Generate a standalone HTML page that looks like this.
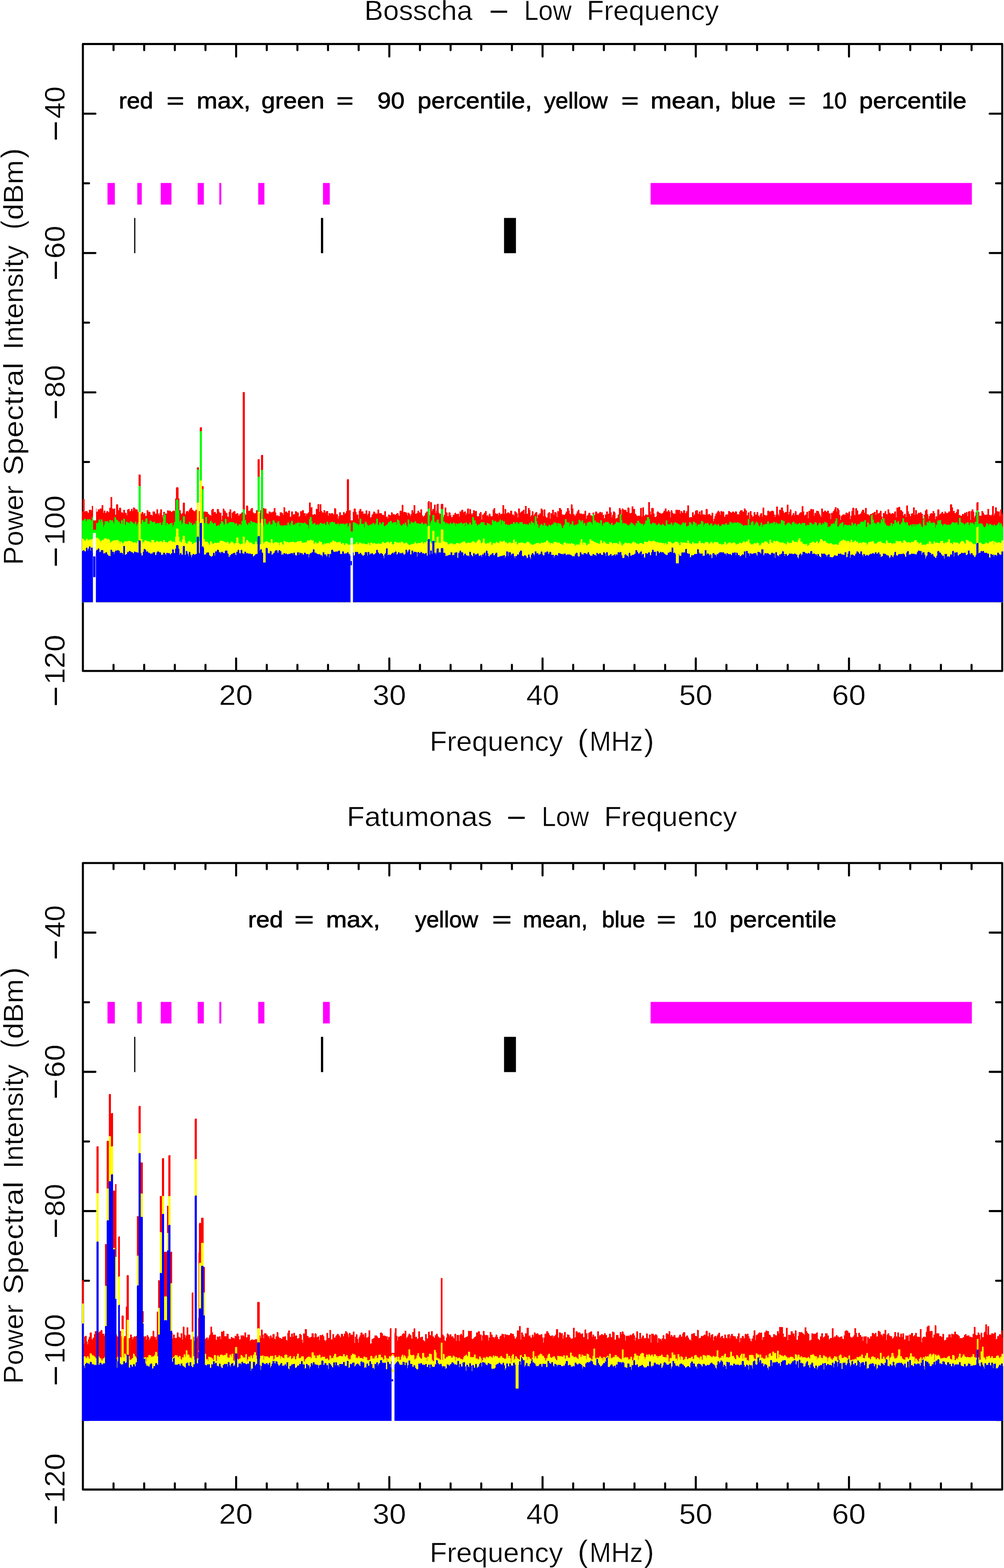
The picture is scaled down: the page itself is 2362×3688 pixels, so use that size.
<!DOCTYPE html>
<html lang="en"><head><meta charset="utf-8"><title>Low Frequency spectra</title>
<style>html,body{margin:0;padding:0;background:#fff}svg{display:block}text{font-family:"Liberation Sans",sans-serif;fill:#000;stroke:#fff;stroke-width:.6;white-space:pre}</style></head><body>
<svg width="2362" height="3688" viewBox="0 0 2362 3688" role="img" aria-label="Power spectral intensity versus frequency, Bosscha and Fatumonas">
<rect width="2362" height="3688" fill="#fff"/>
<g id="panel1">
<rect x="195.0" y="103.5" width="2162.8" height="1474.7" fill="none" stroke="#000" stroke-width="4.8" stroke-linejoin="round"/>
<path d="M267.1 1577.6v-13.9M267.1 104.1v13.9M339.2 1577.6v-13.9M339.2 104.1v13.9M411.3 1577.6v-13.9M411.3 104.1v13.9M483.4 1577.6v-13.9M483.4 104.1v13.9M555.5 1577.6v-28.9M555.5 104.1v28.9M627.6 1577.6v-13.9M627.6 104.1v13.9M699.7 1577.6v-13.9M699.7 104.1v13.9M771.7 1577.6v-13.9M771.7 104.1v13.9M843.8 1577.6v-13.9M843.8 104.1v13.9M915.9 1577.6v-28.9M915.9 104.1v28.9M988.0 1577.6v-13.9M988.0 104.1v13.9M1060.1 1577.6v-13.9M1060.1 104.1v13.9M1132.2 1577.6v-13.9M1132.2 104.1v13.9M1204.3 1577.6v-13.9M1204.3 104.1v13.9M1276.4 1577.6v-28.9M1276.4 104.1v28.9M1348.5 1577.6v-13.9M1348.5 104.1v13.9M1420.6 1577.6v-13.9M1420.6 104.1v13.9M1492.7 1577.6v-13.9M1492.7 104.1v13.9M1564.8 1577.6v-13.9M1564.8 104.1v13.9M1636.9 1577.6v-28.9M1636.9 104.1v28.9M1709.0 1577.6v-13.9M1709.0 104.1v13.9M1781.1 1577.6v-13.9M1781.1 104.1v13.9M1853.1 1577.6v-13.9M1853.1 104.1v13.9M1925.2 1577.6v-13.9M1925.2 104.1v13.9M1997.3 1577.6v-28.9M1997.3 104.1v28.9M2069.4 1577.6v-13.9M2069.4 104.1v13.9M2141.5 1577.6v-13.9M2141.5 104.1v13.9M2213.6 1577.6v-13.9M2213.6 104.1v13.9M2285.7 1577.6v-13.9M2285.7 104.1v13.9M195.6 1414.3h13.9M2357.2 1414.3h-13.9M195.6 1250.5h28.9M2357.2 1250.5h-28.9M195.6 1086.6h13.9M2357.2 1086.6h-13.9M195.6 922.8h28.9M2357.2 922.8h-28.9M195.6 758.9h13.9M2357.2 758.9h-13.9M195.6 595.1h28.9M2357.2 595.1h-28.9M195.6 431.2h13.9M2357.2 431.2h-13.9M195.6 267.4h28.9M2357.2 267.4h-28.9" fill="none" stroke="#000" stroke-width="4.8" stroke-linecap="round"/>
<g fill="#ff00ff"><rect x="252.9" y="430.4" width="17.3" height="50.8"/><rect x="323.0" y="430.4" width="10.5" height="50.8"/><rect x="378.2" y="430.4" width="25.2" height="50.8"/><rect x="465.0" y="430.4" width="14.6" height="50.8"/><rect x="516.0" y="430.4" width="4.6" height="50.8"/><rect x="607.5" y="430.4" width="14.5" height="50.8"/><rect x="759.9" y="430.4" width="15.9" height="50.8"/><rect x="1530.6" y="430.4" width="755.8" height="50.8"/></g><g fill="#000"><rect x="315.6" y="512.6" width="2.8" height="82.9"/><rect x="755.0" y="512.6" width="5.3" height="82.9"/><rect x="1185.8" y="512.6" width="28.0" height="82.9"/></g>
<path fill="#ff0000" d="M193 1416.6V1203h2v-29h4v30h1v-2h6v3h1v1h2v-7h6v2h1v-11h3v34h7v-28h1v8h1v-1h2v-5h3v1h1v-2h1v-1h4v-8h4v18h1v-5h4v6h1v-1h1v-3h1v-1h3v1h1v2h1v-1h1v-9h1v-1h2v-25h4v27h2v2h1v-2h4v14h1v1h1v-24h1v-1h3v1h1v13h2v-5h1v-1h3v1h1v10h4v2h1v-8h3v1h1v6h3v1h1v5h1v-13h1v-1h2v-1h3v6h1v-1h2v-5h4v5h1v-8h1v-1h1v1h2v2h2v3h1v-1h3v1h1v5h2v-88h4v1h1v91h2v-3h1v-1h3v5h1v-2h4v7h1v-1h2v-13h4v4h2v-1h1v1h1v1h1v6h4v2h1v-10h5v1h1v5h1v-1h2v-10h4v10h2v4h1v-6h2v-8h4v13h1v1h1v6h1v-14h4v4h2v-1h1v1h2v-7h1v-1h2v1h1v1h1v-1h3v1h1v2h3v-2h2v-1h4v1h1v-29h1v-1h1v-25h1v-1h4v1h1v25h1v1h1v27h3v7h1v1h1v2h1v-3h1v-1h1v-23h1v-1h3v1h1v25h1v2h1v-7h2v-1h4v3h1v-5h1v-1h1v-3h2v-1h1v-1h3v5h2v1h1v1h1v1h1v1h1v-1h2v-3h3v-99h1v-1h3v1h1v102h2v-196h1v-1h4v139h1v-1h2v1h1v59h1v1h1v-1h3v1h5v4h2v1h1v3h1v-1h2v1h1v1h1v-14h2v-2h4v8h1v-1h3v1h1v3h2v-10h1v-1h3v1h1v5h1v1h1v3h1v-1h3v17h1v-10h2v-16h1v-1h2v1h1v4h2v1h1v3h1v1h1v1h2v8h2v1h1v-12h2v-6h4v21h1v-13h2v-1h1v-1h1v-1h1v-1h3v1h1v6h2v-1h1v-1h3v1h1v4h1v1h1v-4h3v-1h2v-3h3v-283h4v1h1v284h1v3h1v1h1v-21h1v-1h3v2h1v11h1v-1h2v1h1v-1h1v-4h2v-2h4v10h2v3h1v-1h4v-6h1v-1h3v-119h1v-1h4v127h1v-7h2v-129h1v-1h4v125h3v1h1v1h1v-1h2v1h1v10h2v1h2v1h1v-6h4v2h5v-1h1v-1h2v-8h4v10h1v1h1v7h1v-1h4v2h3v-9h5v1h1v1h2v4h1v-18h3v1h1v10h1v-1h3v2h1v1h2v-5h4v14h2v1h1v-13h4v7h2v-1h2v1h1v-7h1v-1h2v1h1v1h1v2h1v-1h2v1h1v10h1v-2h1v-1h1v-10h1v-1h2v1h1v-2h1v-1h3v1h1v6h4v6h1v-5h4v-2h1v-1h2v-23h4v12h1v-1h3v17h1v1h2v-2h4v2h1v-14h4v-11h2v-1h1v1h1v18h1v-18h4v16h2v3h2v1h1v-6h4v7h1v-4h2v-1h4v11h1v-6h4v1h2v-1h5v3h2v-14h1v-1h2v1h1v1h1v13h1v-1h2v1h1v10h1v-6h2v-9h4v7h1v-1h3v1h1v-7h1v-1h2v1h1v4h1v-2h1v-1h1v-4h2v-74h1v-1h3v1h1v73h1v-1h3v24h5v-20h2v-7h1v-1h3v1h1v7h1v1h1v6h1v-1h2v1h1v9h1v-19h2v-4h4v6h2v-1h1v1h2v6h1v-1h3v1h1v-8h1v-1h2v1h1v11h1v-4h2v-6h3v1h1v14h2v-1h1v-5h2v-2h1v-1h1v-4h1v-1h2v1h1v1h1v3h5v-9h1v-1h1v1h2v8h6v1h1v3h4v1h1v-9h1v-1h2v1h1v13h1v-1h3v4h1v-8h1v-1h2v1h1v1h3v-7h3v1h1v4h1v-1h3v1h1v1h2v-2h1v-1h2v-1h3v1h1v5h2v-11h1v-1h3v1h1v-14h1v-1h2v1h1v17h1v-1h4v1h2v1h2v6h1v-6h4v3h2v5h1v-4h1v-1h1v-9h4v5h1v-17h4v21h1v-1h2v-1h2v-5h1v-1h2v1h1v3h2v1h1v-8h4v14h2v4h1v-2h2v-2h2v-5h1v-1h2v-3h3v-22h1v-2h4v33h1v-31h3v1h1v20h1v-4h1v-1h3v-10h4v20h1v-6h1v-14h1v-2h4v21h2v4h1v-2h2v-22h1v-1h4v1h1v30h1v-5h2v-17h2v-1h1v1h1v11h2v1h1v8h2v-8h1v-1h3v1h1v6h2v5h1v-1h2v-5h4v-4h1v-1h3v3h4v-1h2v1h1v6h1v-12h4v-3h1v-1h3v1h1v5h2v-2h4v8h1v-4h1v-1h1v-9h1v-1h3v12h1v-10h1v-1h2v1h1v9h1v1h1v3h1v-4h2v-7h4v3h1v-1h1v-1h1v1h2v12h2v1h1v-1h2v-6h1v-1h1v-2h1v-1h2v1h1v17h1v-11h2v-1h2v-3h1v-1h2v-4h4v11h1v-1h3v3h1v-6h1v-1h2v1h1v5h2v1h1v-1h2v-15h2v-3h1v-1h3v12h2v1h1v1h1v-1h3v4h1v-6h4v4h1v-1h2v-1h2v-20h4v21h1v-12h3v1h1v9h1v1h1v-2h1v-1h3v1h1v1h1v1h1v-6h1v-1h3v1h1v8h4v3h1v-10h1v-1h1v1h2v2h2v3h2v9h1v-21h4v10h1v-1h2v-2h2v-1h2v-2h1v-1h3v10h1v-19h4v19h1v-1h2v-13h4v5h2v15h1v-3h2v-9h1v-1h2v1h1v10h1v-3h2v-3h1v-1h1v-1h1v-1h2v1h1v14h1v-8h1v-1h2v1h1v-4h3v-11h4v3h1v1h1v14h1v-16h3v1h1v15h1v1h1v3h1v-1h2v-9h2v-3h4v15h1v-13h3v1h1v-9h4v12h1v-6h1v-1h2v1h1v1h2v10h1v-14h3v1h1v-8h4v1h1v3h2v11h4v1h3v-3h2v-4h1v-1h2v-8h4v6h2v7h1v1h1v1h1v-23h1v-1h2v1h1v9h2v13h2v1h1v3h2v-4h1v-1h2v-5h2v-3h1v-1h3v8h2v1h5v2h1v-1h1v-1h1v1h2v-7h1v-1h2v1h1v18h1v-7h2v-2h2v-4h1v-1h3v1h1v5h3v1h1v1h1v-8h1v-1h1v1h2v5h2v-7h1v-1h3v1h1v3h1v1h2v-1h2v-3h4v2h1v-1h3v6h3v8h2v-9h3v-7h4v6h1v-1h2v-15h3v1h1v11h2v12h1v-6h2v-8h4v2h1v1h1v14h1v-1h2v-1h2v-7h1v-1h2v-15h4v4h2v11h1v-14h3v1h1v2h2v1h1v-1h3v1h1v4h2v-10h2v-1h1v1h1v1h1v12h4v-1h1v-15h4v6h4v11h1v1h2v3h1v1h1v1h1v-1h6v-18h2v-1h1v1h1v20h1v-21h1v-1h2v1h1v19h2v-1h1v-2h4v2h1v-1h2v-30h4v22h2v7h1v-15h3v-1h1v1h2v13h2v8h3v-1h1v-1h1v-10h1v-1h3v1h1v2h4v2h4v-1h1v-1h1v-1h1v-3h1v-1h2v-5h4v7h3v-3h3v1h1v3h2v13h1v-17h3v1h1v5h2v3h1v-1h3v1h1v-10h6v1h2v-1h2v1h1v8h1v-6h3v1h1v3h2v-5h1v-1h3v1h1v6h2v-4h1v-1h2v-13h1v-1h1v1h2v28h3v-1h3v1h1v-12h4v8h1v-3h2v-8h1v-1h2v-1h3v1h1v7h1v1h1v-5h1v-1h3v8h1v-10h1v-1h2v1h1v9h2v-1h1v1h2v1h2v-13h1v-1h3v1h1v12h2v-1h4v3h2v1h1v-7h4v20h1v-6h2v-6h2v-5h1v-1h2v-3h2v-3h1v-1h2v1h1v2h2v7h1v-9h4v2h1v-1h3v1h1v12h1v-1h1v-4h1v-1h6v-8h4v2h2v1h1v1h2v-2h1v-1h3v1h1v2h2v-3h2v-1h1v1h1v1h1v6h1v-1h2v1h2v-6h1v-1h1v-2h1v-1h5v3h2v1h1v-8h4v4h2v1h1v11h2v-6h1v-1h3v15h1v-18h4v9h2v5h1v-2h2v-9h1v-1h2v1h1v6h1v-1h2v-5h1v-1h2v1h1v7h1v1h1v3h1v-5h1v-1h1v-3h4v8h1v-21h4v17h2v1h2v1h1v-1h2v-10h1v-1h3v2h5v-1h1v-1h3v1h2v1h1v7h2v6h1v-5h2v-19h1v-1h2v1h1v17h2v4h1v-14h4v-5h2v-1h1v1h2v7h1v1h1v4h3v-2h4v-17h4v23h1v-6h2v-5h1v-1h2v1h1v15h1v-3h2v-4h4v5h1v-10h3v1h1v8h4v1h1v-3h1v-1h1v-2h1v-1h4v-14h1v-1h2v1h1v12h2v10h1v-2h2v-1h2v-6h4v15h1v-17h1v-1h2v1h1v-4h1v-1h3v1h5v15h1v-6h1v-1h2v1h1v-5h1v-1h2v1h3v1h1v5h1v1h1v3h2v4h1v-20h3v1h1v7h3v-3h4v3h3v-3h3v1h1v6h1v-1h2v1h1v13h1v-14h1v-1h2v1h1v-4h1v-1h2v-4h2v-5h4v10h1v-8h3v1h1v3h1v1h1v11h2v12h1v-9h2v-2h2v-2h2v-1h1v1h2v1h2v-5h2v-1h1v1h1v1h2v1h1v-4h1v-1h2v1h1v17h1v-8h2v-11h2v-7h1v-1h3v1h1v16h1v1h1v-16h1v-1h3v5h2v1h1v9h3v-1h2v-1h1v-1h1v-4h2v-4h4v1h1v6h2v-11h2v-1h1v1h1v14h2v1h3v2h3v-3h4v-1h1v-1h2v-1h2v-2h4v7h1v-12h3v1h1v8h2v-1h1v-1h2v-4h1v-1h2v1h1v13h2v6h1v-14h4v-4h1v-1h3v7h2v1h1v-12h4v8h3v3h2v-1h1v-1h3v1h2v-1h1v-4h4v14h1v-23h4v-1h1v-1h3v1h1v7h4v3h2v1h1v8h2v-3h2v-1h1v1h1v7h1v-27h4v13h1v1h1v5h1v1h2v5h2v-6h3v-1h2v-13h1v-1h2v1h1v17h1v-11h4v9h1v1h1v-3h1v-1h3v1h1v-2h4v3h2v1h1v11h1v-1h1v-8h3v-10h2v-3h3v1h1v10h1v1h1v10h1v-6h2v-5h1v-1h2v-1h3v1h1v-6h4v5h2v14h1v-6h1v-1h2v1h1v-16h1v-1h3v1h1v11h2v-2h1v-1h2v-3h4v4h3v-5h3v1h1v2h1v1h2v-1h2v-3h4v-16h1v-1h3v1h1v6h1v1h1v8h2v-1h1v1h1v5h3v-3h2v-6h5v14h1v-1h2v1h1v2h1v-1h2v-4h4v1h1v-4h3v1h1v-2h1v-1h2v1h1v9h1v-11h3v-1h2v1h1v20h1v-21h2v-4h4v5h1v1h1v14h1v-4h1v-1h1v-8h2v-22h1v-2h4v23h2v9h5v-11h4v4h2v4h2v1h4v-1h2v-13h4v14h3v1h1v1h1v-2h1v-1h1v-19h1v-1h3v22h1v-4h1v-1h1v-13h1v-1h2v1h1v8h2v1h5v11h1v-15h1v-1h1v1h2v7h2v5h1V1416.6z"/>
<path fill="#00ff00" d="M193 1416.6V1224h5v-4h3v1h1v5h2v-4h1v-1h3v1h1v-1h4v2h1v1h1v1h1v-8h1v-1h2v30h7v-17h1v2h2v-1h1v-2h2v-6h4v7h1v-7h4v5h2v13h1v-6h2v-8h9v3h1v1h1v-6h1v-1h3v1h5v4h2v4h1v-15h1v-1h2v1h1v5h2v1h2v1h1v3h4v6h1v-2h2v-7h4v9h1v-13h3v1h1v13h1v1h1v-7h1v-1h3v1h1v2h1v-1h3v3h1v-6h3v1h1v1h2v1h2v3h3v-4h1v-1h2v1h1v9h1v-4h1v-1h1v-3h1v-1h1v-85h4v1h1v88h2v-9h4v4h1v1h2v-1h1v-1h1v-6h1v-1h3v1h1v12h5v-7h1v-1h2v1h1v1h1v1h1v2h1v-1h2v-1h4v5h1v-1h3v-1h2v1h4v-2h3v1h1v5h2v-1h1v-6h1v-1h1v-10h1v-1h1v-9h2v4h2v25h1v-6h4v4h1v-1h3v-1h1v-1h1v-1h5v10h1v-5h2v-7h3v-27h1v-1h1v-24h1v-1h4v1h1v24h1v1h1v26h1v-3h4v10h1v-4h2v-15h1v-1h3v1h1v16h1v2h1v-1h4v1h2v1h1v-7h3v1h1v3h1v-1h3v5h3v-3h1v-1h3v3h1v-9h3v-120h1v-1h3v1h1v126h1v-4h1v-212h1v-1h4v137h1v-1h2v1h1v76h1v4h1v-1h2v-14h4v15h2v4h1v-3h2v-1h1v-1h1v-4h1v-1h3v4h3v3h2v-1h1v-1h3v1h1v6h3v-1h2v-1h3v1h1v-4h1v-1h2v-6h1v1h1v-1h1v1h1v2h2v5h2v1h1v-13h1v-1h2v1h1v10h2v2h1v-2h2v-3h9v1h1v-1h3v3h2v1h1v-1h4v5h2v1h1v-4h4v-1h1v1h1v3h1v-10h1v-1h2v-27h4v1h1v24h2v1h1v7h2v3h3v-4h1v-1h2v1h1v3h1v-8h3v1h1v2h6v1h1v1h4v1h2v-109h1v-1h4v109h3v-124h1v-1h4v127h1v6h1v-18h3v1h1v9h2v3h2v1h1v-3h2v-4h2v-1h1v1h1v7h2v-1h3v-9h2v-1h1v1h2v4h1v1h1v1h2v8h1v-8h2v-4h4v7h2v3h9v-1h1v1h2v-1h2v-1h1v1h1v1h1v-7h4v4h2v4h1v-7h2v-5h4v9h2v1h1v-1h1v-1h1v-1h1v-1h3v-1h1v-1h6v9h1v-8h1v-1h2v1h1v1h1v-1h3v1h1v-1h1v-1h3v3h2v1h2v1h1v1h2v8h1v-22h2v-5h1v-1h1v1h2v10h2v7h1v-1h2v-2h4v5h1v-1h3v-1h2v1h1v2h1v-3h2v-3h5v1h1v1h2v1h1v-2h1v-1h2v1h1v3h3v-6h1v-1h2v1h1v4h1v1h1v3h1v-7h3v-1h2v-1h3v1h1v1h1v-1h3v4h2v1h3v-1h1v-1h3v5h1v-3h2v-1h1v-1h2v1h1v1h1v-1h1v-1h2v1h3v3h1v-3h2v-1h4v9h1v-3h1v-1h1v-5h1v-1h2v1h1v19h5v-21h1v-1h3v1h1v1h4v3h2v-1h1v1h1v4h1v-4h2v-13h4v12h2v1h1v-1h4v9h1v-14h4v3h1v1h1v4h2v1h3v-2h3v-1h3v1h1v-4h4v3h2v2h1v-5h2v-10h4v14h2v1h1v-6h4v4h1v-1h2v-4h4v9h2v1h1v-2h2v-1h1v-1h2v-2h2v-4h4v-2h1v-1h3v1h1v5h2v-2h1v-1h3v1h1v-1h4v6h1v-12h3v1h1v1h1v1h1v6h1v1h1v3h1v1h3v-1h1v-2h1v-1h3v2h1v-5h4v6h1v1h1v4h1v-18h4v10h2v1h1v-6h3v1h1v2h1v-1h3v1h1v-4h4v4h2v2h1v-1h4v1h5v-3h4v4h2v1h1v-2h1v-1h4v1h1v4h1v-1h1v-37h1v-2h4v38h1v-5h2v-4h1v-1h2v-12h1v-1h3v1h1v15h2v1h1v2h1v-2h1v-4h1v-2h4v7h1v1h1v2h3v-34h1v-1h4v1h1v28h2v1h1v1h2v5h1v-3h4v2h4v2h1v-4h1v-1h2v1h1v3h1v-1h2v-3h4v2h2v6h1v-6h3v1h1v1h2v-2h2v-1h1v1h2v-2h4v4h1v-1h2v-2h4v8h1v-9h3v1h1v2h1v1h1v1h1v-1h2v-3h1v-1h2v1h1v4h3v-18h3v1h1v7h4v7h2v1h1v4h2v-2h2v-1h3v-2h2v-3h4v1h2v-1h2v1h1v6h4v1h1v-6h4v2h5v4h1v-1h2v-12h4v4h1v-1h2v-1h3v1h1v3h2v-1h1v-1h4v-4h1v-1h3v12h1v-10h3v1h1v2h1v-1h2v1h1v6h5v2h1v-1h3v1h2v-1h1v-1h2v-1h4v1h1v-5h4v4h1v-1h2v-3h4v4h3v-2h1v-1h1v-1h6v1h1v4h3v-1h3v1h5v1h2v1h1v-5h4v4h1v-8h3v1h1v3h4v6h1v-22h4v12h2v7h2v1h1v7h2v-5h1v-1h2v-3h3v1h1v2h1v1h2v-6h3v1h1v5h4v2h3v-4h4v2h3v-2h1v-1h4v-4h1v-1h1v1h4v1h2v7h1v-6h1v-1h2v1h1v1h1v-1h3v1h1v3h1v1h1v6h3v-6h2v-3h2v-12h4v7h2v1h5v9h1v-5h4v-7h2v-1h1v1h1v9h2v1h1v-2h5v-1h2v-1h2v-9h2v-1h1v1h1v1h1v3h1v1h1v-4h4v9h1v-3h4v5h2v3h1v-8h1v-1h3v-1h1v-1h5v1h1v2h2v4h1v-24h1v-1h2v1h1v15h1v-1h2v1h1v4h2v-1h2v1h2v1h3v2h1v-8h1v-1h2v1h1v10h2v3h1v-7h3v1h1v-3h2v-1h1v1h3v-1h2v1h1v3h2v1h1v2h2v-3h1v-1h3v5h3v-1h2v-2h1v-1h2v-3h1v-1h2v1h1v1h2v-1h1v1h1v1h1v-20h1v-1h2v1h1v13h2v10h1v-3h4v1h4v1h1v1h1v1h1v1h2v2h1v-2h2v-2h2v-3h1v-1h3v2h3v3h2v1h2v3h1v-7h1v-1h2v1h1v-6h2v-1h1v1h1v1h1v3h1v1h1v1h2v2h1v-1h4v4h2v-4h3v-7h1v-1h2v1h1v-8h1v-1h3v1h1v4h2v10h2v2h3v-3h1v-1h2v1h1v1h2v-1h1v1h2v4h1v-1h2v1h2v-4h4v3h2v1h2v1h1v-3h1v-1h2v1h1v1h1v1h1v1h1v1h2v-12h1v-1h3v9h2v1h1v-1h5v-4h3v1h1v5h1v1h1v-5h3v-3h3v1h1v2h1v-1h2v1h1v1h1v1h3v1h1v3h1v-3h1v-1h2v1h1v-5h4v3h1v-3h3v1h1v8h3v-1h1v-1h3v-7h1v-1h3v3h1v1h2v3h2v-7h1v-1h3v1h1v3h1v-1h2v1h1v7h1v-3h2v-2h5v-1h2v-6h1v-1h2v1h1v1h2v11h1v-5h2v-2h1v-1h2v1h1v1h1v-2h4v4h1v1h1v1h1v-4h2v-1h4v6h1v-1h2v-2h2v-2h4v3h2v1h1v-3h1v-1h2v1h1v5h1v-1h3v1h1v-4h1v-1h5v1h3v-3h4v1h1v3h2v-1h1v-1h2v-5h1v-1h2v1h1v2h1v-1h2v1h1v2h1v-3h8v1h1v-1h1v-1h2v1h1v3h1v-2h4v3h4v3h2v1h1v-1h1v-1h3v1h2v-1h2v1h1v-15h2v-1h1v1h1v14h3v-5h1v-1h1v-2h1v-1h3v1h1v9h1v-1h1v-3h2v-1h1v-4h3v1h1v2h2v5h1v1h1v2h1v-1h1v-1h1v-6h1v-1h3v11h1v-6h3v1h1v-2h2v-1h1v1h2v-1h2v-5h1v-1h2v1h1v7h1v-3h5v-1h3v1h1v-3h1v-1h2v1h1v6h1v-5h4v1h1v1h1v3h1v-2h1v-1h1v1h1v-1h2v1h1v-8h1v-1h3v1h1v2h1v-1h2v1h1v9h3v-2h2v-2h1v-1h2v-1h3v1h1v2h3v1h1v3h1v-7h2v-2h4v5h1v-1h4v3h1v-1h2v-1h2v-2h4v3h3v-3h8v1h1v6h1v-1h1v-1h2v-1h1v1h4v-6h4v1h2v1h1v3h2v-1h1v-1h2v-3h1v-1h2v1h2v1h1v6h3v-4h2v-2h1v-1h2v1h1v4h2v1h1v-4h4v1h1v-4h1v-1h1v1h2v2h1v-1h2v1h1v10h1v-1h4v-2h1v-1h2v-4h4v-1h4v1h1v-6h2v-7h4v20h1v-1h2v-1h1v-1h1v-4h1v-1h4v-3h4v11h1v-5h5v1h5v1h1v-1h1v-1h3v2h2v1h1v-8h4v7h1v-3h2v-2h4v8h1v-4h2v-2h1v-1h2v1h1v-1h2v-1h1v-4h8v1h1v-4h1v-1h2v1h1v16h1v-1h2v-10h4v4h4v1h1v-22h2v-1h1v-1h1v12h2v1h1v7h3v1h1v3h1v-3h2v-3h6v4h1v-1h1v-1h1v-8h4v5h1v-8h4v10h1v1h1v2h1v1h1v3h5v2h1v-1h2v-1h2v-6h4v8h1v-6h4v-8h1v-1h2v1h1v5h2v1h1v-4h4v7h4v-1h1v-3h1v-1h2v-9h3v1h1v8h2v1h2v4h1v-5h3v1h1v6h2v2h1v-1h2v-2h4v6h1v-7h6v5h1v-5h3v1h2v-1h4v-2h4v4h2v4h2v1h1v-17h1v-1h1v-8h2v22h2v-1h2v1h1v-8h4v2h1v-5h4v5h4v1h1v-2h1v-1h2v1h1v1h2v11h1v-7h4v-9h1v-1h3v1h1v-2h4v9h2v1h1v4h1v-1h1v-3h3v-1h3v1h1v2h2v-1h5v1h1v-1h2v-1h2v-3h1v-1h1v-1h4v3h1v-2h3v1h1v-1h2v-1h1v1h1v5h2v-1h1v-15h4v10h2v1h1v1h4v3h2v2h1v-4h4v-2h1v-1h3v1h1v6h2v-5h1v-1h3v2h1v-1h1v-1h2v1h1v3h2v1h1v-6h1v-1h2v1h1v-26h1v-2h4v32h3v-1h6v2h1v1h1v4h2v2h3v-3h2v-6h5v5h1v-1h1v-3h4v1h1v2h4v3h1v-4h1v-1h1v1h2v2h3v-1h2v-2h1v-1h1v-2h1v-1h3v6h1v-4h3v1h1v4h1v1h1v4h1V1416.6z"/>
<path fill="#ffff00" d="M193 1416.6V1267h4v3h2v2h2v-1h1v-4h4v4h2v-1h1v-1h7v-2h4v3h1v-5h2v-1h4v2h1v-1h3v1h1v2h2v2h1v1h1v2h3v-3h5v-3h2v-1h4v1h2v3h1v-3h3v1h1v2h1v1h1v6h1v-2h2v-2h2v-1h3v-1h1v-1h1v1h5v-1h3v1h3v2h1v1h1v5h1v-5h4v3h2v4h1v-5h2v-3h6v2h1v-2h1v-1h6v1h4v2h4v3h1v-2h1v-1h2v1h1v1h2v1h1v-5h4v-69h4v1h1v63h4v10h1v-3h2v-1h2v-3h1v-1h3v2h2v1h5v1h2v1h1v1h1v-1h1v-5h6v1h1v5h1v-1h4v-3h3v1h1v2h2v-1h2v-1h5v3h1v-1h2v-5h3v1h1v4h4v1h3v-2h1v-1h3v-1h2v-1h2v1h1v3h1v-1h5v1h1v1h1v-13h1v-1h1v-18h1v-1h4v1h1v18h1v1h1v10h3v2h3v-6h2v-8h1v-1h3v1h1v10h1v6h2v1h1v1h2v-4h1v-1h2v-2h3v1h1v2h4v5h2v-1h1v-2h1v-1h6v-2h1v-91h1v-1h3v1h1v90h2v-142h1v-1h4v91h1v-1h2v1h1v47h3v6h2v1h1v-1h4v3h2v1h1v3h1v1h1v-8h1v-1h3v5h2v1h3v-2h1v-1h3v1h1v1h1v-1h1v-1h4v1h1v-1h1v-1h1v-3h2v-1h1v1h4v1h4v2h3v1h1v1h1v-2h1v-1h3v1h1v4h1v1h1v-3h3v-3h1v-1h1v1h2v1h2v3h2v3h1v-4h4v-12h1v-1h3v1h1v11h1v1h1v2h1v1h1v1h1v-2h5v-17h4v1h1v17h1v-4h1v-1h1v-4h1v-1h3v1h1v3h2v2h6v1h1v1h1v1h1v2h1v-1h4v-6h4v6h1v-1h1v-74h1v-1h4v76h2v-1h1v-57h1v-1h4v54h1v5h1v-4h1v-1h1v-1h3v-1h3v1h1v1h2v1h4v2h1v-10h4v8h2v4h1v-3h2v-2h6v1h1v1h1v-1h2v1h1v6h1v-7h2v-1h4v5h2v2h1v-10h4v2h2v2h1v-1h1v-1h2v1h1v1h3v-1h1v-1h1v1h5v-1h3v1h1v1h3v-1h4v-2h7v-1h3v1h1v3h1v1h2v-1h5v-1h3v1h1v-5h4v1h1v-1h2v-2h3v1h1v2h1v-1h3v1h1v7h2v-3h1v-1h3v1h1v3h2v-2h3v-4h1v-1h1v1h2v2h4v6h3v-2h1v-1h2v1h2v-1h5v-1h3v3h1v-2h1v-1h1v-2h5v-4h3v1h1v2h1v-1h2v1h1v1h1v1h1v-1h2v1h2v-1h3v-1h2v1h1v4h3v-1h1v-1h2v1h1v3h1v1h2v-4h4v1h2v2h7v-1h1v-1h3v1h1v1h2v-1h3v-1h2v-3h1v-1h2v1h1v4h3v-4h4v1h2v1h1v1h2v-1h4v1h2v1h6v-3h1v-1h1v1h2v5h2v-5h1v-1h3v1h1v2h2v-2h4v1h1v1h4v1h1v-2h4v1h5v-1h2v-3h2v-1h1v1h1v3h1v-1h3v1h1v-2h1v-1h2v-1h4v3h1v1h1v-3h1v-1h3v1h1v5h2v1h1v-1h2v-5h1v-1h4v1h1v2h1v-1h3v1h1v-1h2v-1h1v1h1v2h1v-4h4v1h1v1h1v2h2v1h1v-2h3v-1h3v3h2v1h1v1h1v1h2v-1h3v-1h2v-1h5v1h1v-4h1v-1h2v1h1v2h2v2h1v-3h4v1h1v-1h4v-2h1v-1h2v1h1v3h2v1h1v-3h1v-1h2v1h2v-3h1v-1h2v-33h1v-2h4v37h3v4h3v-29h1v-1h3v1h1v28h1v-1h4v-12h1v-2h4v15h1v-1h3v1h1v-31h1v-1h4v1h1v27h3v1h2v2h1v-1h3v1h1v4h1v1h1v-1h2v-1h1v-1h4v1h1v-1h3v2h1v1h1v-1h4v-2h2v-1h4v2h1v-1h3v1h1v-2h2v-1h1v-1h3v1h1v-3h4v3h2v2h3v-1h1v-1h4v1h4v-2h3v-2h3v1h3v2h2v2h1v-3h2v-2h1v-1h1v-2h1v-1h3v1h1v1h1v1h1v5h1v1h2v-2h1v-1h1v-8h1v-1h2v1h1v9h1v1h1v2h2v1h1v-3h4v2h1v-3h2v-1h1v-1h2v1h1v6h1v1h1v-1h1v-4h4v1h3v-3h1v-1h2v1h1v2h5v-4h1v-1h2v1h1v1h2v1h1v-1h1v-1h1v-1h4v4h2v-1h2v1h1v3h1v-1h2v-2h3v-1h2v1h1v3h1v-2h1v-1h1v1h2v-7h1v-1h3v9h1v-4h4v7h1v-1h2v-3h6v-1h2v-1h1v1h2v1h4v2h1v-1h2v-2h2v-1h1v-1h3v1h2v1h1v2h2v2h2v1h6v-1h2v-1h2v-1h2v-1h7v2h3v-3h4v1h3v-2h3v1h1v-1h1v-1h1v-2h1v-1h3v1h1v4h4v5h1v-4h3v1h3v1h1v-4h1v-1h1v1h4v-1h1v1h1v1h2v1h1v-1h4v3h4v1h1v1h2v1h1v-4h1v-1h1v-1h1v-1h2v1h1v3h1v-1h5v1h2v-1h2v1h1v1h1v-2h1v-1h2v1h1v1h4v1h1v4h1v-1h1v-2h2v-1h1v1h3v-1h2v1h1v1h1v-6h2v-8h4v13h1v-4h1v-1h5v2h2v4h2v1h1v-4h5v-11h4v4h4v1h2v1h1v1h4v2h5v2h2v-1h1v1h2v-8h4v6h2v1h1v-4h1v-1h2v1h1v2h2v2h2v1h5v1h1v-5h5v1h1v1h1v1h1v3h1v-4h4v1h1v-1h6v3h2v-1h1v-5h1v-1h2v1h1v4h2v4h1v1h2v-2h1v-1h1v-1h2v-2h1v-1h3v1h2v1h2v-1h3v1h5v2h1v-3h2v-3h3v1h1v1h4v1h1v2h2v-1h1v1h2v1h2v-3h6v1h1v1h2v1h1v-1h1v-4h1v-1h4v1h4v-1h1v-2h1v-1h2v1h1v1h4v2h1v-3h6v1h1v1h2v2h1v-1h5v1h1v1h3v-1h3v1h2v1h2v-1h2v1h1v3h1v-4h4v4h1v-1h2v-6h3v1h2v-1h3v3h2v1h1v1h1v-1h1v-1h2v-1h1v-1h1v-1h5v1h2v1h1v1h2v5h3v-7h3v1h1v1h2v-1h2v-1h1v1h2v1h5v-6h3v1h1v5h1v1h3v1h1v1h2v-4h1v-1h3v4h1v-1h7v1h1v-1h1v-1h2v-4h1v-1h3v5h2v1h1v-1h4v2h1v-1h2v-3h4v-1h1v1h3v1h1v3h2v-1h1v-1h2v-3h4v4h3v-3h1v-1h2v1h1v1h1v-1h6v3h1v1h1v1h1v-1h3v1h1v1h1v1h1v-2h2v-1h1v1h2v-5h4v6h1v-1h2v-2h1v-1h1v-1h7v2h3v-1h2v-2h3v1h1v2h2v4h1v-2h2v-1h5v-3h3v1h1v1h2v-1h2v-1h1v-3h4v3h1v-1h2v-2h3v1h1v-4h1v-1h3v8h2v1h1v2h2v1h1v-1h3v1h1v-3h1v-1h2v1h3v1h1v-3h4v2h2v4h1v1h2v-2h1v-1h1v-3h1v-1h3v1h3v-3h1v-1h2v1h4v2h1v1h1v2h3v-9h1v-1h2v1h1v5h2v3h1v-1h2v-5h4v1h2v2h1v-3h4v2h2v1h2v1h10v3h1v-1h3v1h1v2h2v-6h1v-1h3v3h2v1h1v-1h5v-6h4v3h4v1h2v-1h2v1h1v1h1v-6h2v-4h4v9h1v-1h3v1h1v4h4v1h2v1h1v-2h4v5h1v-1h2v-1h2v-4h1v-1h4v-2h2v-1h4v2h2v1h2v-1h1v-2h1v-1h3v5h2v-1h1v-3h2v-5h1v-1h3v1h1v1h2v4h1v-1h2v-1h3v1h1v4h1v-1h2v1h1v1h2v1h2v-1h3v-1h1v1h2v2h4v2h1v-1h1v-1h6v1h1v1h1v-1h2v-4h2v-3h1v-1h2v-1h2v-1h2v-1h1v-1h3v1h1v2h1v-1h2v1h1v4h1v-4h5v1h1v3h1v-1h2v-5h1v-1h2v1h1v6h1v-1h2v-1h2v-2h1v-1h2v1h1v4h1v-2h3v1h1v3h2v-1h1v-1h3v1h2v1h1v-2h1v-1h4v1h4v1h2v6h1v-4h2v-3h1v-1h4v-1h5v-1h3v1h1v4h4v2h1v-2h2v-2h2v-2h6v-1h2v1h1v3h4v1h2v-1h2v1h1v2h1v-9h4v5h2v1h2v1h1v-1h1v-1h2v1h1v1h2v3h1v-3h1v-1h1v1h5v-6h3v1h1v1h1v-1h3v1h1v-1h1v-1h2v1h1v3h5v-5h4v1h2v3h3v1h3v-1h3v1h1v1h2v-2h1v-1h2v1h1v-1h1v1h2v-3h1v-1h2v-1h3v1h1v4h4v4h1v-1h2v-2h4v5h2v1h1v-1h6v2h1v-3h2v-1h2v-1h1v1h2v-6h4v1h1v1h1v4h1v1h1v-1h2v1h1v-6h4v3h3v-1h4v1h2v1h1v-1h2v-4h3v-1h4v5h2v3h1v-4h6v-1h1v-1h2v-5h1v-1h2v1h1v9h1v-1h3v1h1v2h2v-5h4v2h1v-1h6v1h2v1h1v1h1v1h1v-4h1v-1h2v-3h4v1h1v1h2v1h1v3h2v1h1v-9h4v1h3v3h6v1h1v2h2v2h2v2h1v-2h3v1h3v-39h1v-2h4v38h2v-1h4v1h1v2h2v1h3v-1h4v-3h4v2h2v1h1v-2h2v-3h4v1h1v-2h3v-1h3v9h1v-7h3v1h1v2h1v-1h3v1h1v-1h1v-1h2v1h2v1h1v1h1v-3h1v-4h4V1416.6z"/>
<path fill="#0000ff" d="M193 1416.6V1296h1v-1h2v-1h2v1h1v2h3v-8h1v-1h2v1h1v6h1v-4h1v-1h1v-4h1v-1h2v1h1v9h1v-7h4v7h1v-1h3v4h3v-2h1v-1h1v-2h3v-3h3v1h1v8h1v-1h2v-4h6v8h1v-1h3v1h1v-3h4v5h2v1h1v3h1v-1h2v1h2v-15h3v1h1v4h4v5h1v-5h2v-3h5v-1h3v1h1v1h2v5h1v-1h4v1h2v3h1v-20h3v1h1v20h2v-1h1v-1h2v-4h1v-1h2v1h1v-3h4v1h1v2h1v-1h2v1h1v1h1v1h1v1h1v-4h1v-1h2v1h1v1h5v1h2v-29h4v1h1v29h2v6h1v-1h2v-8h2v-7h4v2h1v1h1v4h1v-1h3v1h1v3h1v-1h2v1h1v1h1v1h1v-1h4v-3h6v7h1v-1h2v-5h1v-1h1v-2h4v2h4v1h1v5h3v-1h2v-4h4v3h2v3h1v-5h1v-1h2v1h5v1h1v2h2v-2h1v-1h2v-9h3v1h1v7h1v1h2v-10h1v-1h1v-7h1v-1h4v1h1v7h1v1h1v14h1v-4h4v4h2v-1h1v-19h1v-1h3v1h1v20h2v-9h3v1h1v5h1v1h1v5h1v-10h3v1h1v6h2v6h1v-5h2v-3h4v2h1v-1h2v-1h3v-40h1v-1h3v1h1v37h1v2h1v-71h1v-1h4v56h1v-1h2v1h1v3h1v16h1v-1h4v-4h3v-1h3v2h1v5h2v2h2v1h3v-1h1v-1h1v-6h1v-1h2v1h1v6h1v-10h4v-3h1v-1h3v1h1v5h4v3h1v-4h4v2h2v1h3v-5h1v-1h5v6h1v1h1v1h1v7h2v-4h3v-2h1v-1h3v-1h1v-1h2v-1h3v1h1v4h1v1h1v-8h3v-4h1v-1h2v1h1v7h2v1h1v-8h1v-1h2v1h1v7h2v1h2v1h1v-5h1v-1h1v1h2v4h1v-1h3v1h7v2h1v-1h4v6h1v-1h2v-2h2v-2h2v-1h4v-41h1v-1h4v34h1v-3h4v7h1v1h1v1h1v22h6v-34h2v-1h1v1h1v1h1v11h2v1h1v-1h2v-5h3v1h1v8h2v-2h1v-1h2v-2h2v-4h2v-2h4v1h1v5h2v-5h1v-1h3v2h2v1h1v8h1v-1h4v-3h4v2h1v-1h3v1h1v1h2v-1h2v-1h1v1h2v-2h6v3h1v-4h4v5h1v1h1v1h1v-1h2v-7h4v6h1v-5h3v1h1v1h1v-1h3v4h1v-1h2v-4h4v2h1v1h1v1h1v-1h4v8h1v-7h2v-3h4v-2h2v-1h1v-6h3v1h1v7h4v1h1v2h4v1h2v-1h2v1h1v2h4v3h1v-10h4v5h4v1h1v4h1v-1h1v-5h4v8h1v-8h4v-9h1v-1h3v1h1v3h1v1h3v1h1v-2h3v1h1v-1h3v-2h3v1h1v7h5v-6h4v5h2v1h1v-1h1v-1h2v1h1v-2h1v-1h3v4h3v4h1v-1h3v1h1v-7h1v-1h2v1h1v7h1v-1h2v-8h4v1h1v-1h2v1h1v4h3v-2h2v-1h1v1h1v3h2v1h1v2h1v1h1v-2h1v-1h2v-6h1v-1h1v1h4v8h1v-8h1v-1h2v1h1v5h2v-2h4v-1h2v1h1v3h1v-1h2v-1h1v-1h1v-1h2v-7h1v-1h2v1h1v5h1v1h2v3h2v-1h1v-1h3v1h1v1h2v4h2v6h1v-9h2v-3h2v-11h4v16h1v-1h1v-1h2v1h4v-2h1v-1h1v-1h1v-1h3v3h1v-4h2v-1h1v-1h2v1h1v7h1v-2h2v-4h4v3h1v-1h3v1h1v-2h4v4h2v1h1v-2h2v-10h4v7h1v-3h2v-4h2v-1h1v1h1v11h3v-9h4v6h1v-3h6v1h2v10h1v-10h1v-1h2v1h1v1h1v1h2v-3h3v1h1v3h1v-1h3v1h1v1h2v-2h4v6h2v-37h1v-2h4v36h1v-9h4v8h1v-30h1v-1h3v1h1v27h3v4h1v-4h1v-8h1v-2h4v10h1v-1h3v1h1v-10h1v-1h4v1h1v10h3v1h2v7h1v-1h3v1h1v-2h3v-1h4v-6h4v7h2v-1h2v1h1v-6h3v-1h4v13h2v-11h1v-1h2v-4h1v-1h2v1h1v3h4v1h1v7h1v-1h1v-3h1v-1h3v4h3v1h4v2h1v-11h4v7h2v2h1v1h1v1h1v-7h1v-1h2v1h1v4h1v-2h1v-1h1v1h2v-2h4v5h2v1h1v-2h4v4h1v-6h4v-4h4v7h1v-11h1v-1h2v1h1v5h1v1h1v6h2v1h1v-4h3v-1h2v-3h4v5h3v-3h1v-1h1v-2h4v10h5v-2h5v-1h4v-1h4v6h1v-4h2v-11h4v11h1v-9h6v7h1v-3h2v-1h4v6h2v5h1v-5h4v-3h1v-1h3v1h1v-6h2v-3h1v-1h3v1h1v11h2v2h1v-1h2v-2h4v2h2v5h1v-1h2v-7h1v-1h2v1h1v5h1v1h1v4h1v-10h2v-4h4v3h2v3h1v-10h4v5h1v-1h3v1h1v3h2v-2h3v-5h1v-1h2v1h1v6h1v1h1v2h1v-1h2v-6h1v-1h2v1h1v-2h1v-1h3v1h1v5h2v-4h1v-1h3v1h1v6h6v6h1v-4h2v-2h4v1h2v1h1v-6h4v1h2v1h5v2h1v-2h1v-1h5v4h1v-1h2v-1h7v1h3v1h1v1h1v1h1v1h1v-1h3v1h1v-5h2v-3h1v-1h3v1h1v7h1v1h3v-1h1v-9h3v1h1v4h4v1h1v-4h5v1h1v1h2v1h1v-4h1v-1h3v5h2v2h1v2h1v-1h4v-4h3v1h1v2h1v-1h2v1h1v2h1v-7h1v-1h1v1h2v2h2v1h1v-3h3v1h1v3h5v-6h3v1h1v2h2v6h1v-9h4v8h3v-1h2v-2h1v-1h2v1h1v4h1v-1h1v-1h3v-1h1v-1h3v4h1v-4h3v1h1v-6h4v1h1v-1h1v-1h2v1h1v7h2v6h2v1h1v-1h2v-7h1v-1h3v1h1v2h3v1h1v3h1v-10h1v-1h2v1h1v6h3v-1h1v-1h5v-2h2v-1h1v-8h4v4h2v3h1v1h1v1h1v-3h2v-2h1v-1h3v9h1v-3h4v9h1v-1h2v-10h3v1h1v1h1v-1h2v-3h3v1h1v6h3v-7h2v-6h3v1h1v4h5v9h2v-10h1v-1h2v1h1v1h1v3h2v-2h1v-1h3v2h1v-1h1v-1h1v1h2v1h1v1h1v2h2v1h1v1h2v1h1v-1h2v-5h4v-2h4v1h1v-11h4v13h1v-1h3v1h1v3h1v21h7v-22h1v4h3v1h1v-1h1v-7h1v-1h2v1h2v-1h3v1h1v-8h1v-1h3v10h2v1h1v1h1v-1h2v1h1v8h1v-1h2v-4h6v-1h1v-2h7v-11h4v8h2v3h1v-1h6v6h1v-1h4v-13h4v11h1v-3h4v1h1v1h1v3h1v-3h3v1h1v8h1v-1h1v-10h1v-1h3v1h1v3h4v4h1v-6h3v1h1v-3h1v-1h2v-1h6v1h1v-1h3v1h1v3h1v-1h2v1h1v3h1v-5h3v1h1v1h2v1h1v-1h3v1h1v2h2v-5h1v-1h3v1h1v-1h1v-1h2v1h1v6h1v-6h3v1h1v5h1v-1h3v4h1v-1h2v-1h1v-1h1v-1h1v-1h3v1h1v-8h4v15h1v-16h4v5h2v1h2v5h1v-5h1v-1h2v1h1v1h3v-1h2v-1h6v1h1v4h1v1h1v-9h4v1h3v3h2v-10h5v14h2v-4h1v-1h3v2h1v-2h4v1h2v2h3v1h1v-1h1v-3h1v-1h3v1h1v1h4v10h1v-13h4v7h2v1h2v2h1v-5h4v-1h1v-1h2v-5h1v-1h1v1h2v6h2v5h1v-5h4v4h3v-2h2v-3h4v1h1v-1h3v1h1v1h1v-1h2v-1h3v1h2v1h1v1h2v6h2v3h1v-9h2v-2h1v-1h3v5h1v-3h2v-6h5v1h1v1h1v2h1v-1h2v1h1v1h1v-2h1v-1h1v1h2v1h2v-5h1v-1h3v1h1v6h2v-1h4v1h1v1h4v4h1v-5h3v1h1v4h2v2h2v1h1v-9h3v1h2v-1h3v1h1v1h2v2h2v4h1v-4h1v-1h1v-1h4v7h1v-1h3v1h3v-1h1v-1h2v-3h4v2h1v-1h2v1h1v-1h1v-4h1v-1h2v1h2v-1h3v1h1v2h1v-1h2v1h4v-6h4v12h1v-1h2v-8h2v-5h1v-1h2v1h1v15h1v-7h3v-1h2v1h2v1h1v1h3v-4h1v-1h2v-5h4v2h1v1h1v3h1v-1h2v-5h4v8h2v4h1v-6h3v1h1v3h3v-2h3v1h1v1h2v-2h1v-1h2v-1h1v-1h1v1h2v-1h1v-1h3v1h1v1h2v-4h4v4h1v-1h2v-2h1v-1h2v1h1v4h3v6h2v-2h3v-6h4v1h4v3h5v2h2v5h1v-2h2v-5h4v3h2v2h1v-5h1v-1h1v-6h1v-1h3v8h2v1h2v-1h1v-2h1v-1h3v1h1v-1h4v1h1v-2h4v2h2v5h2v1h1v-10h2v-3h1v-1h2v1h1v8h1v-1h4v-1h1v-1h3v1h2v-1h2v1h1v1h2v-1h1v1h2v-5h2v-3h1v-1h3v1h5v9h1v-5h2v-1h4v6h2v9h1v-5h2v-3h2v-7h1v-1h3v1h1v1h2v1h1v1h1v3h1v-2h3v1h1v4h2v2h2v2h3v-5h2v-10h1v-1h3v1h1v3h4v4h2v1h1v3h1v-1h2v1h1v6h1v-11h6v6h2v-1h1v1h3v1h1v-5h1v-1h3v1h1v-9h4v13h1v-9h1v-1h1v1h2v-1h4v7h2v1h1v-3h2v-1h2v-1h1v-2h3v1h3v-1h5v5h1v1h1v-1h1v-1h2v-9h4v7h2v3h1v-4h4v4h1v1h2v1h1v3h3v-4h1v-1h1v-26h1v-2h4v24h2v-1h3v-4h3v1h2v-1h3v4h3v1h1v-1h3v2h4v1h1v8h2v1h1v-9h3v1h1v1h2v-1h1v1h1v4h1v-4h4v2h1v-1h2v-6h4v3h2v2h3v-1h1v-7h4V1416.6z"/>
<rect x="218.6" y="1253.5" width="7.0" height="163.6" fill="#fff"/>
<rect x="219.2" y="1308.6" width="5.4" height="48.8" fill="#0000ff"/>
<rect x="218.6" y="1275.0" width="7.0" height="25.0" fill="#ffffe0"/>
<rect x="824.6" y="1265.0" width="5.8" height="152.1" fill="#fff"/>
<rect x="824.6" y="1319.5" width="3.4" height="10.0" fill="#0000ff"/>
<rect x="826.0" y="1277.0" width="4.4" height="7.0" fill="#ffff60"/>
<text><tspan x="857.2" y="46.6" textLength="254.6" lengthAdjust="spacingAndGlyphs" font-size="65">Bosscha</tspan> <tspan x="1147.2" y="44.5" textLength="53.0" lengthAdjust="spacingAndGlyphs" font-size="65" stroke="none">-</tspan> <tspan x="1232.9" y="46.6" textLength="112.0" lengthAdjust="spacingAndGlyphs" font-size="65">Low</tspan> <tspan x="1380.6" y="46.6" textLength="310.6" lengthAdjust="spacingAndGlyphs" font-size="65">Frequency</tspan></text>
<text><tspan x="279.6" y="254.8" textLength="80.9" lengthAdjust="spacingAndGlyphs" font-size="54.5" stroke="#000" stroke-width="1">red</tspan> <tspan x="391.8" y="254.8" textLength="41.7" lengthAdjust="spacingAndGlyphs" font-size="54.5" stroke="#000" stroke-width="1">=</tspan> <tspan x="462.8" y="254.8" textLength="126.7" lengthAdjust="spacingAndGlyphs" font-size="54.5" stroke="#000" stroke-width="1">max,</tspan> <tspan x="615.0" y="254.8" textLength="148.1" lengthAdjust="spacingAndGlyphs" font-size="54.5" stroke="#000" stroke-width="1">green</tspan> <tspan x="791.2" y="254.8" textLength="40.5" lengthAdjust="spacingAndGlyphs" font-size="54.5" stroke="#000" stroke-width="1">=</tspan> <tspan x="887.7" y="254.8" textLength="64.1" lengthAdjust="spacingAndGlyphs" font-size="54.5" stroke="#000" stroke-width="1">90</tspan> <tspan x="982.3" y="254.8" textLength="269.5" lengthAdjust="spacingAndGlyphs" font-size="54.5" stroke="#000" stroke-width="1">percentile,</tspan> <tspan x="1279.9" y="254.8" textLength="149.9" lengthAdjust="spacingAndGlyphs" font-size="54.5" stroke="#000" stroke-width="1">yellow</tspan> <tspan x="1461.6" y="254.8" textLength="41.3" lengthAdjust="spacingAndGlyphs" font-size="54.5" stroke="#000" stroke-width="1">=</tspan> <tspan x="1530.5" y="254.8" textLength="166.4" lengthAdjust="spacingAndGlyphs" font-size="54.5" stroke="#000" stroke-width="1">mean,</tspan> <tspan x="1719.6" y="254.8" textLength="105.3" lengthAdjust="spacingAndGlyphs" font-size="54.5" stroke="#000" stroke-width="1">blue</tspan> <tspan x="1854.5" y="254.8" textLength="41.4" lengthAdjust="spacingAndGlyphs" font-size="54.5" stroke="#000" stroke-width="1">=</tspan> <tspan x="1933.6" y="254.8" textLength="58.5" lengthAdjust="spacingAndGlyphs" font-size="54.5" stroke="#000" stroke-width="1">10</tspan> <tspan x="2021.3" y="254.8" textLength="252.7" lengthAdjust="spacingAndGlyphs" font-size="54.5" stroke="#000" stroke-width="1">percentile</tspan></text>
<text><tspan x="515.3" y="1658.2" textLength="79.4" lengthAdjust="spacingAndGlyphs" font-size="67">20</tspan></text>
<text><tspan x="876.7" y="1658.2" textLength="78.5" lengthAdjust="spacingAndGlyphs" font-size="67">30</tspan></text>
<text><tspan x="1238.2" y="1658.2" textLength="77.3" lengthAdjust="spacingAndGlyphs" font-size="67">40</tspan></text>
<text><tspan x="1597.4" y="1658.2" textLength="78.6" lengthAdjust="spacingAndGlyphs" font-size="67">50</tspan></text>
<text><tspan x="1957.2" y="1658.2" textLength="79.4" lengthAdjust="spacingAndGlyphs" font-size="67">60</tspan></text>
<text><tspan x="1011.0" y="1766.0" textLength="313.4" lengthAdjust="spacingAndGlyphs" font-size="65">Frequency</tspan> <tspan x="1359.0" y="1765.5" textLength="24.3" lengthAdjust="spacingAndGlyphs" font-size="72">(</tspan><tspan x="1387.1" y="1766.0" textLength="125.3" lengthAdjust="spacingAndGlyphs" font-size="65">MHz</tspan><tspan x="1515.2" y="1765.5" textLength="23.4" lengthAdjust="spacingAndGlyphs" font-size="72">)</tspan></text>
<text transform="rotate(-90 151.6 267.4)"><tspan x="83.3" y="264.9" textLength="55.5" lengthAdjust="spacingAndGlyphs" font-size="67" stroke="none">-</tspan><tspan x="140.2" y="267.4" textLength="75.6" lengthAdjust="spacingAndGlyphs" font-size="67">40</tspan></text>
<text transform="rotate(-90 151.6 595.1)"><tspan x="83.3" y="592.6" textLength="55.5" lengthAdjust="spacingAndGlyphs" font-size="67" stroke="none">-</tspan><tspan x="138.2" y="595.1" textLength="77.7" lengthAdjust="spacingAndGlyphs" font-size="67">60</tspan></text>
<text transform="rotate(-90 151.6 922.8)"><tspan x="83.3" y="920.3" textLength="55.5" lengthAdjust="spacingAndGlyphs" font-size="67" stroke="none">-</tspan><tspan x="138.8" y="922.8" textLength="77.1" lengthAdjust="spacingAndGlyphs" font-size="67">80</tspan></text>
<text transform="rotate(-90 151.6 1250.5)"><tspan x="64.0" y="1248.0" textLength="55.5" lengthAdjust="spacingAndGlyphs" font-size="67" stroke="none">-</tspan><tspan x="119.7" y="1250.5" textLength="39.0" lengthAdjust="spacingAndGlyphs" font-size="67">1</tspan><tspan x="158.1" y="1250.5" textLength="78.9" lengthAdjust="spacingAndGlyphs" font-size="67">00</tspan></text>
<text transform="rotate(-90 151.6 1578.2)"><tspan x="64.0" y="1575.7" textLength="55.5" lengthAdjust="spacingAndGlyphs" font-size="67" stroke="none">-</tspan><tspan x="119.7" y="1578.2" textLength="39.0" lengthAdjust="spacingAndGlyphs" font-size="67">1</tspan><tspan x="157.3" y="1578.2" textLength="79.6" lengthAdjust="spacingAndGlyphs" font-size="67">20</tspan></text>
<text transform="rotate(-90 54.0 840.9)"><tspan x="-433.8" y="840.9" textLength="186.9" lengthAdjust="spacingAndGlyphs" font-size="65">Power</tspan> <tspan x="-223.0" y="840.9" textLength="265.3" lengthAdjust="spacingAndGlyphs" font-size="65">Spectral</tspan> <tspan x="72.6" y="840.9" textLength="245.1" lengthAdjust="spacingAndGlyphs" font-size="65">Intensity</tspan> <tspan x="355.5" y="840.4" textLength="20.9" lengthAdjust="spacingAndGlyphs" font-size="72">(</tspan><tspan x="377.7" y="840.9" textLength="140.9" lengthAdjust="spacingAndGlyphs" font-size="65">dBm</tspan><tspan x="522.3" y="840.4" textLength="24.0" lengthAdjust="spacingAndGlyphs" font-size="72">)</tspan></text>
</g>
<g id="panel2">
<rect x="195.0" y="2029.8" width="2162.8" height="1473.7" fill="none" stroke="#000" stroke-width="4.8" stroke-linejoin="round"/>
<path d="M267.1 3502.9v-13.9M267.1 2030.4v13.9M339.2 3502.9v-13.9M339.2 2030.4v13.9M411.3 3502.9v-13.9M411.3 2030.4v13.9M483.4 3502.9v-13.9M483.4 2030.4v13.9M555.5 3502.9v-28.9M555.5 2030.4v28.9M627.6 3502.9v-13.9M627.6 2030.4v13.9M699.7 3502.9v-13.9M699.7 2030.4v13.9M771.7 3502.9v-13.9M771.7 2030.4v13.9M843.8 3502.9v-13.9M843.8 2030.4v13.9M915.9 3502.9v-28.9M915.9 2030.4v28.9M988.0 3502.9v-13.9M988.0 2030.4v13.9M1060.1 3502.9v-13.9M1060.1 2030.4v13.9M1132.2 3502.9v-13.9M1132.2 2030.4v13.9M1204.3 3502.9v-13.9M1204.3 2030.4v13.9M1276.4 3502.9v-28.9M1276.4 2030.4v28.9M1348.5 3502.9v-13.9M1348.5 2030.4v13.9M1420.6 3502.9v-13.9M1420.6 2030.4v13.9M1492.7 3502.9v-13.9M1492.7 2030.4v13.9M1564.8 3502.9v-13.9M1564.8 2030.4v13.9M1636.9 3502.9v-28.9M1636.9 2030.4v28.9M1709.0 3502.9v-13.9M1709.0 2030.4v13.9M1781.1 3502.9v-13.9M1781.1 2030.4v13.9M1853.1 3502.9v-13.9M1853.1 2030.4v13.9M1925.2 3502.9v-13.9M1925.2 2030.4v13.9M1997.3 3502.9v-28.9M1997.3 2030.4v28.9M2069.4 3502.9v-13.9M2069.4 2030.4v13.9M2141.5 3502.9v-13.9M2141.5 2030.4v13.9M2213.6 3502.9v-13.9M2213.6 2030.4v13.9M2285.7 3502.9v-13.9M2285.7 2030.4v13.9M195.6 3339.8h13.9M2357.2 3339.8h-13.9M195.6 3176.0h28.9M2357.2 3176.0h-28.9M195.6 3012.3h13.9M2357.2 3012.3h-13.9M195.6 2848.5h28.9M2357.2 2848.5h-28.9M195.6 2684.8h13.9M2357.2 2684.8h-13.9M195.6 2521.0h28.9M2357.2 2521.0h-28.9M195.6 2357.3h13.9M2357.2 2357.3h-13.9M195.6 2193.5h28.9M2357.2 2193.5h-28.9" fill="none" stroke="#000" stroke-width="4.8" stroke-linecap="round"/>
<g fill="#ff00ff"><rect x="252.9" y="2356.5" width="17.3" height="50.7"/><rect x="323.0" y="2356.5" width="10.5" height="50.7"/><rect x="378.2" y="2356.5" width="25.2" height="50.7"/><rect x="465.0" y="2356.5" width="14.6" height="50.7"/><rect x="516.0" y="2356.5" width="4.6" height="50.7"/><rect x="607.5" y="2356.5" width="14.5" height="50.7"/><rect x="759.9" y="2356.5" width="15.9" height="50.7"/><rect x="1530.6" y="2356.5" width="755.8" height="50.7"/></g><g fill="#000"><rect x="315.6" y="2438.7" width="2.8" height="82.9"/><rect x="755.0" y="2438.7" width="5.3" height="82.9"/><rect x="1185.8" y="2438.7" width="28.0" height="82.9"/></g>
<path fill="#ff0000" d="M193 3342.1V3011h4v150h1v-17h2v-2h4v13h1v1h1v6h1v-12h2v-5h1v-1h1v-9h1v-1h3v1h1v15h2v-4h3v-8h2v-7h4v-434h1v-1h3v1h1v437h1v-1h1v-2h3v-3h3v1h1v8h4v5h1v-5h1v-211h3v1h1v-243h1v-1h3v1h1v-110h1v-1h3v1h1v45h1v-1h4v183h1v-1h3v1h1v-16h3v354h1v4h2v1h1v-234h1v-2h3v222h2v1h1v12h1v-48h1v-1h3v1h1v52h1v-4h1v-1h2v1h1v-70h2v-73h1v-1h3v1h1v148h1v-1h2v-8h4v6h2v5h1v-5h2v-2h3v1h1v-1h1v-1h2v-281h1v-1h2v1h1v-259h1v-1h3v1h1v132h4v1h1v349h2v59h1v1h1v-1h4v8h1v-10h1v-1h2v1h1v3h1v1h1v7h1v-4h2v-4h1v-1h4v-13h3v1h1v13h2v1h2v6h1v-8h1v-58h3v-74h3v1h1v-199h4v1h1v-89h1v-1h4v221h1v-1h5v1h1v-109h3v-118h1v-1h4v228h1v-1h3v190h1v14h1v-9h4v8h5v-13h4v10h2v1h1v1h1v1h1v-11h4v15h1v-30h1v-1h2v1h1v18h1v1h1v6h1v-5h2v-19h4v17h4v1h1v11h1v-1h2v-109h1v-1h3v104h2v10h1v-522h1v-1h4v516h1v-4h1v-1h1v-42h1v-154h1v-68h1v-2h3v1h1v-12h1v-1h4v1h1v115h3v170h1v-2h2v-2h4v5h1v-4h1v-1h1v-5h1v-1h1v-2h1v-17h1v-1h2v1h1v12h1v1h1v5h2v1h1v-1h3v1h1v11h1v1h1v-8h2v-1h1v1h1v1h1v-2h4v7h1v-18h3v1h1v-2h1v-1h2v1h1v12h5v-6h4v1h1v11h4v1h1v-5h1v-1h1v1h2v2h4v2h1v-7h3v1h1v-5h1v-1h3v1h1v5h2v8h1v-1h2v-9h8v3h1v-10h4v12h1v-1h2v-6h6v15h1v-2h2v-1h1v-1h2v1h1v1h1v-1h4v-1h5v-87h1v-1h4v1h1v78h2v6h1v-19h1v-1h2v1h1v11h2v9h1v-12h6v3h2v1h1v3h4v5h1v-7h3v1h1v4h2v-8h2v-1h1v1h2v11h1v1h1v-6h1v-1h2v-10h3v1h1v10h2v3h4v1h1v1h2v-4h1v-1h3v1h1v-2h4v8h1v1h1v1h1v-18h2v-5h1v-1h2v1h1v14h2v1h1v-8h2v-1h1v1h1v7h1v-9h4v7h1v-1h3v1h1v6h3v-1h2v-9h1v-1h2v1h1v2h2v11h2v7h1v-21h1v-1h2v1h1v-11h4v1h1v15h3v1h1v3h3v-1h3v-1h1v-8h5v9h1v1h1v-9h1v-1h3v2h1v7h2v-1h1v-1h2v1h1v8h1v-12h3v1h1v-1h1v-1h3v1h1v3h2v9h2v3h1v-3h2v-17h4v12h3v-19h3v1h1v22h1v-1h2v-12h4v8h3v-4h2v-2h1v-1h1v-1h1v-1h2v1h1v3h2v1h1v4h1v-1h1v-7h1v-1h3v1h1v5h2v-6h2v-1h1v-5h3v1h1v2h2v4h2v7h1v-10h3v1h1v4h1v-1h3v1h1v-8h4v27h1v-15h2v-5h1v-1h2v1h1v10h1v1h1v8h1v-12h1v-1h1v-4h2v-6h1v-1h3v1h1v4h1v-1h2v1h1v5h1v-9h3v1h1v10h3v-2h2v-15h4v31h3v-10h2v-1h2v-2h3v-6h6v2h1v1h1v3h5v-12h1v-1h3v1h1v1h1v1h1v5h1v-1h3v1h3v2h1v-1h3v8h1v-6h1v-1h1v1h1v-1h1v-19h1v-1h3v58h7v-47h1v-11h4v18h2v11h1v-9h4v-1h1v-1h3v1h1v-4h1v-1h1v-1h1v-1h3v1h1v-7h4v18h1v-3h2v-4h2v-4h4v3h2v1h1v7h1v1h1v-16h3v-8h1v-1h2v1h1v20h1v-1h2v1h1v5h1v-2h2v-16h1v-1h2v1h1v13h2v1h1v-2h4v7h1v1h1v1h1v1h1v1h1v-17h4v10h3v-15h1v-1h2v1h1v7h2v1h1v-10h4v12h2v1h1v2h1v1h1v-6h1v-1h2v-3h3v1h1v5h2v3h4v1h1v-141h4v133h2v1h1v3h2v10h2v1h1v-7h1v-1h1v-9h1v-1h2v1h1v2h2v4h1v-4h1v-1h2v1h1v5h1v-1h3v1h1v3h1v1h1v-10h1v-1h3v17h1v-14h6v14h1v-14h2v-2h1v-1h2v1h1v3h1v-13h4v19h1v-1h2v-1h1v-1h2v1h1v-2h1v-1h1v-11h1v-1h3v1h2v-1h3v19h2v1h1v-2h1v-1h1v-2h3v-2h2v-9h4v-2h1v-1h3v1h1v7h4v14h1v-12h2v-10h1v-1h2v1h1v8h1v1h1v1h1v-1h4v1h2v12h1v-7h2v-13h4v6h2v1h1v5h4v3h1v-4h2v-5h3v1h1v5h2v4h1v1h2v-6h1v-1h1v-1h1v-1h2v-4h3v1h3v8h1v-8h3v1h1v1h1v-1h2v1h3v1h1v-1h1v-1h1v-3h2v-1h1v1h1v1h1v1h1v-1h2v1h1v5h2v5h2v1h1v-4h1v-1h1v-14h1v-1h3v1h1v-11h4v32h1v-17h4v5h1v1h1v4h3v-8h4v-13h5v19h1v-1h3v4h1v1h1v1h1v-7h1v-1h2v1h1v4h1v-10h4v4h1v-1h2v-1h3v1h1v3h2v-1h1v1h2v-2h4v8h2v12h1v-12h2v-9h4v-5h1v-1h3v1h1v3h1v1h1v3h1v1h1v2h2v1h1v-2h4v5h1v-4h3v1h1v-4h2v-12h1v-1h3v1h1v19h2v-12h4v1h1v1h4v13h1v-8h1v-1h1v-7h4v13h1v-1h2v-6h1v-1h1v1h2v1h2v5h2v2h1v2h2v-1h3v-25h4v23h1v-1h1v-13h1v-1h3v1h1v3h1v-1h5v1h1v3h1v-1h2v-1h2v1h1v8h3v-17h1v-1h3v9h3v14h2v-15h2v-1h1v-1h2v-1h1v-1h2v1h1v12h1v-5h3v1h1v4h1v-1h3v7h3v-18h1v-1h2v1h1v11h1v-3h3v1h1v-3h4v2h3v-4h4v4h3v7h2v-1h1v-1h2v-8h4v8h3v-13h3v1h2v1h1v17h3v-11h6v6h1v1h1v1h1v-15h4v5h1v-6h1v-1h1v1h2v5h2v3h2v13h1v-11h5v-1h2v1h1v1h1v-3h1v-1h2v1h1v1h1v-2h1v-1h1v-2h4v5h2v12h1v-7h2v-14h1v-1h2v1h1v17h2v1h1v-15h4v14h1v-4h2v-4h3v1h1v6h1v-1h3v1h1v-11h1v-1h2v1h1v10h2v2h1v-10h4v19h1v-21h6v3h1v1h2v-2h1v-1h2v1h1v2h2v17h1v-10h1v-1h2v1h1v2h1v-1h3v4h1v-5h2v-7h1v-1h2v1h1v8h2v1h1v-13h1v-1h3v1h2v2h1v-8h4v13h1v-4h3v1h1v3h2v-3h1v-1h3v1h1v5h6v1h1v-3h1v-1h1v-4h4v4h1v1h2v-7h1v-1h1v-2h1v-1h3v1h1v11h1v-1h1v-2h1v-1h3v1h1v4h1v1h1v3h1v1h3v2h1v-15h1v-1h2v1h1v-2h2v-1h1v1h2v6h4v1h1v-15h3v1h1v19h1v-1h3v-1h1v-4h3v1h1v-1h1v-1h2v-2h3v1h1v-9h1v-1h3v1h1v12h2v-8h2v-1h1v1h1v11h1v-6h2v-2h4v15h1v-8h1v-1h1v-2h4v4h1v-4h1v-1h1v-3h2v-3h2v-1h1v1h1v12h1v-3h2v-2h4v5h2v1h1v-9h4v7h1v1h1v1h1v-9h3v-1h3v10h1v-6h1v-1h1v-3h1v-1h2v1h1v4h2v1h5v5h2v2h1v-7h2v-6h1v-1h3v21h1v-10h3v1h1v-5h1v-1h3v1h1v4h1v1h1v-10h1v-1h2v1h1v1h1v-2h4v6h2v5h2v1h1v5h1v1h1v-6h1v-1h2v-6h1v-1h1v-11h1v-1h3v23h1v-12h4v-3h2v-1h1v-2h3v1h2v-1h2v1h1v17h1v-7h4v-11h1v-1h2v-3h1v-1h2v1h1v1h4v8h3v2h2v4h5v-7h4v2h2v1h3v-10h4v5h1v-15h4v1h1v-1h3v1h1v14h1v1h1v8h1v-1h3v1h1v-22h4v29h1v-12h1v-1h2v1h3v-8h1v-1h3v1h1v5h1v-1h2v1h1v6h1v-14h3v1h1v21h2v1h1v-10h2v-9h4v1h1v-1h3v1h1v2h2v1h1v1h1v2h1v-18h4v9h2v4h2v2h2v1h1v15h2v-1h1v-1h2v-15h4v2h1v-1h3v1h1v-1h1v-1h1v-1h1v-1h3v15h2v1h1v2h2v-8h1v-1h2v-7h4v10h1v-1h2v-2h2v-7h6v5h3v9h2v-3h5v-23h4v23h1v-3h1v-1h1v1h2v-3h1v-1h3v3h3v2h1v1h1v-1h1v-1h3v-1h2v1h1v5h2v1h1v-9h2v-10h2v-2h4v1h2v1h1v4h2v-1h1v1h1v9h2v1h1v1h1v1h1v-3h3v-3h1v-1h1v-16h4v11h2v9h2v1h1v-10h2v-1h1v1h1v5h3v4h4v10h1v-10h1v-1h2v1h1v-1h4v17h1v-15h4v4h1v-1h2v-5h4v-7h1v-1h3v1h1v2h2v-3h4v9h1v-1h2v-13h4v2h2v1h1v6h4v4h1v-6h4v-9h4v24h1v-12h1v-1h1v-3h4v5h2v1h1v1h4v6h1v-2h2v-3h1v-1h1v-10h4v10h2v1h1v-10h4v10h2v1h1v-8h4v8h1v-9h3v1h1v14h1v-1h2v-9h3v1h2v-1h3v13h1v-15h3v1h1v-4h1v-1h3v1h1v7h2v-2h1v-1h2v-5h4v8h1v1h1v1h1v-1h3v1h1v-19h4v31h1v-10h2v-2h1v-1h5v1h1v-12h1v-1h1v-11h2v-3h5v13h3v-1h3v1h1v15h2v-7h3v-22h3v1h1v18h6v1h1v6h1v-1h2v1h1v1h2v1h1v-7h1v-1h2v1h1v14h1v1h1v-1h1v-1h2v-5h3v-1h2v-6h1v-1h2v1h3v7h1v-9h3v1h1v1h1v-1h2v-6h4v6h4v2h2v1h1v1h1v1h1v5h1v-1h3v1h1v-1h2v-2h3v-5h2v-2h4v4h2v-1h5v4h1v-1h3v1h2v1h1v-8h1v-1h2v-16h4v18h1v1h1v1h1v-1h2v-6h3v1h1v4h2v12h1v-16h1v-1h1v1h2v10h3v-10h1v-1h1v-2h2v-17h4v24h1v-19h1v-1h2v1h1v20h1v-1h3v1h1v-4h4v1h3v-3h3v1h1v15h1v-1h2v-6h1v-1h2v1h1v-4h1v-1h3v1h1v-10h4v17h1V3342.1z"/>
<path fill="#ffff00" d="M193 3342.1V3066h4v125h1v-1h3v1h1v4h1v-1h1v-3h1v-1h3v1h1v4h1v1h1v-13h4v1h1v3h2v2h1v-1h2v1h1v2h2v1h1v3h2v-388h1v-1h3v1h1v383h1v1h1v2h1v1h1v1h2v1h1v4h2v-4h1v-1h2v-1h2v-3h1v-167h3v1h1v-229h1v-1h3v1h1v-123h1v-1h3v1h1v24h1v-1h4v240h1v-1h3v1h1v20h3v238h1v7h1v-10h2v-187h1v-2h3v189h1v1h1v1h2v-66h1v-1h3v1h1v66h1v-9h4v4h2v-83h1v-1h3v1h1v84h1v1h1v9h1v-1h2v-1h2v-2h1v-1h2v-10h3v1h1v4h1v1h1v1h1v1h1v3h1v-241h1v-1h2v1h1v-288h1v-1h3v1h1v141h4v1h1v302h2v83h3v-1h3v10h1v-9h1v-1h2v1h1v-5h1v-1h4v1h2v4h1v-1h2v-1h4v-3h1v-1h1v-6h2v-1h1v1h2v10h2v-114h3v1h1v-179h4v1h1v-85h1v-1h4v237h1v-1h5v1h1v-150h3v-86h1v-1h4v206h1v-1h3v176h1v-1h1v-1h2v-1h1v-1h1v-2h1v-1h3v1h3v4h2v-1h1v-2h3v1h1v6h1v1h1v2h1v-6h1v-1h1v1h2v-7h1v-1h2v1h1v5h1v-15h4v10h4v2h1v5h4v3h1v-63h1v-1h3v57h1v1h1v8h1v-471h1v-1h4v469h4v-18h1v-205h1v-2h3v1h1v-47h1v-1h4v1h1v116h3v144h2v1h1v12h2v-1h1v1h1v4h1v-10h3v1h1v1h1v-1h2v1h1v2h3v4h2v-11h1v-1h3v1h1v13h2v-12h1v-1h3v1h1v3h1v-1h1v-4h2v-1h4v1h1v1h1v1h1v-2h5v-4h4v10h4v1h1v-7h1v-1h3v5h1v-7h4v16h2v2h1v-5h1v-28h1v-1h3v1h1v27h2v2h1v-1h2v-2h3v-8h3v1h1v2h2v3h5v-7h1v-1h3v17h1v-5h2v-6h4v4h1v-7h3v1h1v6h1v-1h1v-7h1v-1h2v-5h1v-1h2v1h1v7h2v8h1v-71h1v-1h4v1h1v71h1v-7h5v-1h3v10h1v-8h1v-1h1v1h2v1h1v-1h4v1h2v3h1v-1h2v-4h4v1h1v-1h3v10h1v-3h2v-8h1v-1h2v1h1v4h5v-4h4v8h1v-6h4v3h2v1h2v1h1v-8h2v-1h4v1h1v7h1v-1h2v-1h2v-3h3v1h1v7h1v-1h1v-1h1v-1h2v-4h3v1h1v6h3v-7h1v-1h1v-5h4v11h1v-1h4v-3h1v-1h5v1h1v11h2v-5h3v-3h2v-1h1v-1h1v-1h7v4h1v-1h1v-13h2v-1h1v1h2v7h4v6h2v1h1v-7h4v1h1v-3h3v1h1v6h1v1h1v-2h1v-1h3v1h1v-1h4v5h2v1h1v-2h4v5h1v-2h2v-10h3v1h1v6h1v-1h3v1h1v-5h1v-1h1v-4h1v-1h3v1h1v8h1v-1h4v-2h2v-1h4v1h5v-5h4v5h2v1h1v-3h1v-1h2v1h1v6h2v4h1v-1h4v-9h2v-1h1v-3h4v2h1v-1h2v1h1v1h1v7h1v-1h2v1h1v1h1v-5h4v5h1v-1h5v1h1v1h2v-5h2v-1h1v1h1v1h1v1h1v-1h2v1h1v6h2v1h1v-1h2v-1h2v-8h1v-1h3v1h1v5h4v1h1v-5h2v-3h4v7h1v-1h2v-7h2v-1h4v6h3v1h2v5h1v-1h2v-9h3v1h1v4h1v1h1v8h1v-7h3v1h1v-6h4v2h1v-4h2v-3h4v8h2v1h1v-1h2v-1h1v-1h2v1h1v6h1v-7h4v8h1v-1h2v-7h2v-4h1v-1h2v1h1v6h1v-5h3v1h1v3h1v1h1v3h1v-1h1v-1h1v-4h2v-16h2v-1h1v1h1v12h2v1h1v1h2v-1h2v-1h1v1h1v1h1v9h1v1h1v-3h2v-1h1v-6h2v-5h4v8h2v3h2v1h1v1h2v-13h1v-1h3v1h1v8h1v1h1v2h1v-1h3v8h1v-10h4v-7h5v1h2v13h2v3h2v1h1v-27h4v5h1v1h1v12h2v1h1v2h1v-1h3v3h3v-40h4v41h1v-14h1v-1h1v1h2v10h2v1h1v-4h4v-3h8v1h1v4h1v-1h2v-4h1v-1h1v1h2v2h2v9h1v-8h3v1h1v2h2v-1h1v-1h3v1h1v3h1v-1h2v1h1v1h1v-1h2v-5h1v-1h1v-2h3v-2h1v-1h2v1h1v3h2v-10h1v-1h3v1h1v12h2v-1h1v1h1v1h1v-1h4v-6h4v10h1v-1h4v3h1v-1h2v-6h1v-1h2v1h1v3h1v1h1v9h1v-5h2v-6h5v1h1v2h1v-5h4v2h3v-3h6v2h1v1h1v1h1v-5h1v-1h2v1h1v3h1v-3h4v2h1v-1h2v1h1v3h3v-1h2v-3h1v-1h2v1h1v1h1v3h4v2h3v-1h2v-11h4v10h1v-5h4v5h1v1h1v9h1v-15h2v-3h1v-1h2v1h1v13h1v-3h2v-6h4v4h2v2h2v1h1v1h2v-10h1v-1h3v2h1v3h5v-7h3v1h1v5h4v8h1v-7h1v-1h2v1h1v3h2v2h2v1h1v-4h2v-15h1v-1h3v17h1v-5h4v5h3v-7h4v-3h1v-1h3v1h2v1h1v4h1v-1h2v1h1v4h3v6h2v-5h1v-1h2v-6h1v-1h1v-3h4v8h2v1h1v1h2v-2h1v-1h2v-1h3v1h1v4h1v1h1v3h3v-10h4v1h7v1h3v-3h1v-1h1v1h2v7h1v1h1v-7h1v-1h3v1h1v4h4v1h1v-12h1v-1h2v1h1v7h2v-1h1v1h1v3h3v-1h4v2h1v1h2v2h1v1h1v-11h1v-1h3v1h1v5h1v1h1v-6h4v3h7v8h1v-13h4v2h2v7h2v1h2v1h1v3h1v-1h2v-8h2v-17h4v22h2v3h1v-3h1v-1h2v1h3v-1h1v-3h3v1h1v4h1v-1h3v6h1v-8h1v-1h1v1h2v1h2v7h1v-9h2v-2h4v6h1v-11h4v10h2v1h1v-2h2v-1h1v-1h1v1h2v-5h5v4h2v-1h1v1h1v2h2v1h1v2h4v2h1v-24h4v20h2v-1h1v-1h3v1h2v-1h2v1h1v5h1v-1h4v-6h4v9h1v-1h2v-6h2v-9h2v-1h1v1h2v4h4v10h1v-9h4v-4h1v-1h2v-2h4v1h1v1h1v7h1v1h1v5h1v-5h2v-6h4v4h1v-4h1v-1h2v1h1v3h2v-1h1v-2h4v4h1v1h1v-5h1v-1h3v1h1v3h4v5h1v-4h3v-1h4v-3h3v1h1v4h2v1h5v1h2v-6h1v-1h3v2h1v15h1v-1h1v-7h1v-1h3v1h1v-14h4v6h1v-1h3v1h1v9h1v-1h2v1h1v4h1v-15h4v6h1v1h1v6h1v-8h3v1h1v1h1v1h1v6h2v-1h1v-2h2v-5h4v5h1v1h2v-2h1v-1h6v-3h4v6h1v-1h2v-8h2v-1h4v4h2v1h1v1h4v4h1v-7h3v1h1v7h2v-11h5v2h4v5h1v-7h4v1h4v2h2v1h1v1h1v1h1v-3h1v-1h3v1h1v2h2v-2h3v-14h4v16h1v1h1v3h1v-3h3v1h1v-5h4v4h1v-5h2v-4h4v9h1v-1h3v1h4v-2h2v-12h3v1h1v10h1v-1h3v1h1v3h1v1h1v2h1v1h2v-10h3v1h1v2h1v1h1v3h1v-1h2v-5h2v-4h4v12h1v-12h4v10h1v-1h3v1h1v5h3v1h1v1h1v-14h6v-1h1v1h3v1h1v5h1v1h1v3h1v-1h2v-13h3v1h1v2h4v9h1v-9h4v8h1v-1h3v1h1v2h3v-1h2v-7h4v5h3v-8h2v-2h4v6h3v-10h4v4h1v-1h3v1h1v12h1v1h1v-19h4v16h1v-7h4v3h1v-1h3v1h1v2h1v-1h1v-2h1v-1h2v1h1v1h1v1h1v1h1v1h2v4h1v-3h3v1h1v-2h1v-1h5v1h2v1h1v3h3v-11h3v1h1v1h1v1h1v5h1v-7h3v1h1v5h1v1h1v-2h1v-1h3v1h1v3h1v-1h1v-1h4v1h3v2h1v-1h2v-2h1v-1h1v1h2v3h2v-8h2v-1h1v1h2v-1h1v-1h2v1h1v2h1v1h1v1h5v7h1v-4h3v1h1v-7h4v6h2v1h1v1h1v-1h1v-6h4v1h1v2h4v3h2v8h1v-8h1v-1h1v-2h2v-1h1v1h1v4h2v1h1v3h1v-1h1v-3h1v-1h2v-4h4v2h1v-1h3v8h2v1h1v-11h2v-2h1v-1h3v1h1v7h5v-3h3v1h3v1h2v2h2v1h1v-7h1v-1h3v12h1v-1h4v-1h1v-1h2v1h1v1h1v-3h4v2h1v-6h1v-1h1v1h3v1h1v-2h1v-1h3v1h1v-5h4v8h4v1h1v-6h1v-1h2v-5h1v-1h2v1h1v10h4v3h1v1h2v-5h1v-1h2v-1h3v1h1v2h1v-1h2v1h1v4h3v-3h4v3h2v1h1v-16h4v14h3v-5h4v5h2v3h1v-6h2v-2h2v-2h1v-1h2v1h1v11h1v-6h1v-1h1v-1h1v-1h1v-8h1v-1h3v1h1v7h2v5h5v-2h2v-4h1v-1h1v-14h2v-1h1v1h2v16h4v5h2v1h1v1h1v1h4v-6h5v1h1v3h2v-1h1v-4h2v-8h4v7h2v1h5v11h1v-7h3v1h1v2h1v1h1v3h3v-6h2v-3h1v-1h2v1h1v10h1v-7h2v-4h4v4h1v-6h3v1h2v-1h3v1h1v-5h2v-2h4v7h1v-4h2v-3h4v15h1v-13h4v3h1v1h1v-3h2v-1h1v1h2v3h1v1h1v4h5v-1h3v-1h3v1h2v1h1v-1h2v-2h1v-1h2v-2h3v1h1v6h2v1h2v1h1v-11h4v1h1v1h1v10h3v-3h1v-1h3v3h1v-7h2v-7h4v9h2v1h1v-4h2v-4h2v-1h1v1h1v4h2v1h1v1h1v1h1v-1h2v-1h1v1h2v1h1v-1h2v1h2v-2h4v-6h4v7h3v2h1v-1h2v-43h1v-1h3v43h1v1h1v6h1v-1h2v-19h1v-1h1v1h1v-11h1v-1h2v1h1v24h1v1h3v5h1v-1h1v-6h2v-1h1v1h2v-2h4v6h1v-2h2v-3h4v5h1v-1h6v-4h1v-1h2v-1h3v1h1v4h2v2h1v-4h3v-6h1v-1h2v1h1V3342.1z"/>
<path fill="#0000ff" d="M193 3342.1V3113h4v99h2v6h1v-10h2v-2h1v-1h2v1h1v1h3v1h1v1h1v-5h1v-1h3v1h1v4h2v2h1v-1h3v2h2v-1h2v1h1v-290h1v-1h3v1h1v289h2v-4h1v-1h3v1h1v3h1v1h1v-2h1v-1h3v-1h1v1h1v-88h4v-248h1v-1h3v1h1v-92h1v-1h3v1h1v-16h1v-1h4v177h1v-1h3v1h1v116h3v142h1v20h1v-15h1v-1h1v-130h1v-2h3v138h2v2h1v1h1v-1h4v-7h1v-1h1v1h2v4h2v-1h1v-1h1v-17h1v-1h3v1h1v29h2v2h1v-8h3v1h1v4h1v-1h2v-5h1v-1h1v1h2v4h1v1h1v-9h1v-1h2v-180h1v-1h2v1h1v-311h1v-1h3v1h1v149h4v1h1v250h2v83h3v-1h1v12h2v5h4v1h1v1h3v-5h2v-2h4v13h1v-2h2v-5h4v-6h1v-1h3v1h1v3h2v-71h4v-145h4v1h1v-139h1v-1h4v251h1v-1h5v1h1v-165h3v-59h1v-1h4v250h1v-1h3v73h2v-8h2v-1h1v-1h1v17h2v-1h1v1h4v-1h1v-1h3v1h1v3h2v-5h4v5h2v1h1v1h2v2h2v1h1v-10h2v-2h4v7h2v1h1v-9h4v9h2v3h1v-1h2v-6h3v-396h1v-1h4v394h1v1h2v-9h1v-18h1v-101h1v-2h3v1h1v-100h1v-1h4v1h1v116h3v116h2v1h2v1h1v-3h7v8h3v-8h4v-7h2v-1h1v1h1v6h1v-2h1v-1h2v1h1v6h2v1h2v1h1v-6h1v-1h2v1h1v6h2v3h2v1h1v-7h2v-2h1v-1h3v1h1v-1h4v6h1v-10h1v-1h1v1h2v7h2v4h1v-7h2v-2h4v7h1v-1h2v-3h1v-25h1v-1h3v1h1v33h1v-2h2v-8h6v3h1v-7h4v4h1v-1h3v1h2v1h1v1h2v-1h1v-1h3v1h1v-6h4v22h1v-5h4v-15h1v-1h3v1h1v8h1v-1h1v-3h3v-50h1v-1h4v1h1v53h2v11h1v-9h2v-7h1v-1h3v2h2v1h1v1h1v-1h1v-1h1v-1h3v1h1v3h2v-4h1v-1h2v1h1v11h1v-4h2v-5h1v-1h1v-6h2v1h1v-1h2v6h2v-5h4v1h1v5h1v1h1v3h3v-3h2v-3h4v7h1v-1h3v1h1v-3h1v-1h3v4h1v-9h4v15h2v2h1v-8h1v-1h1v1h2v-3h1v-1h4v-1h4v9h3v-1h1v-1h1v-3h4v-1h1v-3h3v1h1v-7h1v-1h2v1h1v7h4v1h1v9h1v-1h2v-10h3v1h1v3h1v-1h3v8h1v-4h1v-1h1v-7h1v-1h2v1h1v4h1v-7h4v5h4v1h5v8h1v-6h1v-1h1v-1h4v-9h1v-1h3v1h1v9h1v1h1v-4h1v-1h3v1h1v4h4v9h1v-14h3v1h1v2h2v3h2v3h1v1h2v-11h1v-1h2v1h1v6h1v-7h3v1h1v7h1v-1h3v4h1v-7h4v1h1v-1h3v1h1v-5h1v-1h2v1h1v8h2v1h2v-1h1v-11h4v16h2v-1h1v-8h4v1h1v-3h1v-1h3v-1h1v1h1v9h1v-1h1v-1h1v-3h2v-1h1v-1h3v2h1v1h2v3h2v-10h1v-1h3v1h1v2h1v-1h2v1h1v13h1v-2h3v1h1v-9h1v-1h3v6h1v-1h2v-10h2v-1h1v1h1v6h2v1h1v9h1v-1h2v1h1v3h1v-13h3v1h1v-4h1v-1h3v8h1v-4h2v-2h2v-6h1v-1h3v1h1v5h4v1h1v-1h3v1h1v15h1v-1h2v-17h3v1h1v4h4v8h1v-14h4v4h2v9h1v-5h2v-2h2v-3h2v-1h1v-2h3v1h1v3h1v1h1v3h7v-7h4v1h1v7h2v-6h4v13h1v-7h2v-11h4v8h5v6h1v1h2v-4h3v1h1v5h1v1h1v2h2v1h2v-1h1v-12h1v-1h2v1h2v-2h3v1h1v3h2v-1h1v1h1v1h1v-1h2v-1h1v-1h3v7h3v-5h2v-1h1v1h1v8h1v-8h1v-1h2v1h1v4h2v1h4v-1h1v-5h3v-10h3v1h1v6h2v3h3v-1h4v5h2v3h1v-3h3v1h3v6h1v-2h2v-9h4v2h2v2h1v-4h3v-1h1v-3h1v-1h3v1h1v2h2v3h1v-1h3v1h3v-9h4v15h1v-8h3v1h1v5h3v-9h2v-1h4v10h2v10h1v-14h4v4h2v2h1v-9h1v-1h2v1h1v5h2v13h1v-14h1v-1h1v1h2v6h2v-1h1v-8h3v1h1v8h2v-3h3v-6h2v-2h1v-1h2v1h1v8h1v-10h4v1h4v4h2v1h1v1h2v-4h1v-1h3v1h1v2h1v-1h2v1h1v10h2v1h2v-1h4v-2h2v-7h2v-1h1v-1h4v-3h3v1h1v2h2v1h2v1h1v-4h1v-1h2v1h1v5h1v1h1v10h1v-4h2v-11h4v6h1v1h2v-7h4v4h1v1h4v-6h1v-1h3v4h1v1h1v56h7v-56h1v-8h4v8h1v-19h1v1h1v3h2v5h1v-1h3v16h1v-3h1v-1h1v-5h4v7h4v1h1v-6h1v-1h2v-7h1v1h1v-4h2v8h1v-1h2v1h1v2h2v1h1v4h2v2h1v-1h3v1h1v-3h2v-3h4v1h1v5h1v1h1v-7h2v-1h1v1h6v8h1v-1h2v-14h4v5h2v1h2v1h1v-4h4v8h2v3h1v-7h4v1h1v1h1v4h1v-3h1v-1h7v1h1v2h2v1h1v-1h2v-1h4v-4h1v-1h1v-5h1v-1h3v1h1v10h1v-1h2v-1h3v1h1v4h1v-1h4v-1h3v1h1v-9h4v3h1v1h2v1h1v-1h1v-2h4v1h2v1h1v2h2v8h1v-5h3v1h2v1h1v-9h2v-1h1v-2h4v1h1v-1h2v-1h2v-3h2v1h1v-1h1v2h1v1h1v6h3v2h4v1h1v-15h1v-1h2v1h1v9h2v4h2v1h1v3h2v-1h1v-1h2v-3h2v-3h4v-4h1v-1h1v2h1v-9h2v-2h2v23h5v-3h1v-1h1v-2h4v4h1v1h2v-1h1v-1h3v5h1v-7h1v-1h2v1h1v-7h4v1h5v3h1v-3h4v1h1v1h1v9h1v1h3v1h3v-10h4v1h1v7h4v7h1v-11h4v-11h1v-1h2v1h1v10h1v1h2v-1h1v-1h2v1h1v6h1v-1h2v-2h3v-1h2v-1h1v-1h2v1h1v3h2v3h1v-1h3v1h1v-1h1v-1h1v-2h2v-1h1v1h1v1h1v-11h1v-1h2v1h1v10h2v3h1v-3h1v-1h3v-6h1v-1h3v1h1v3h2v-1h1v1h3v1h1v1h2v-3h1v-1h3v11h1v-2h2v-4h1v-1h1v-6h1v-1h3v1h1v2h2v3h5v-1h1v-1h1v-1h1v-1h2v1h1v12h1v-5h2v-13h4v5h1v1h2v5h2v1h1v-1h3v1h1v1h1v1h1v-6h2v-1h1v-1h3v1h1v1h1v1h3v3h2v1h1v3h2v-1h1v-1h2v-2h4v2h2v2h1v-11h2v-3h1v-1h2v1h1v4h4v1h1v6h4v5h1v-10h1v-1h2v-1h2v1h3v2h2v1h1v3h2v-6h5v3h1v1h4v-2h3v1h2v-1h2v-3h2v-2h4v3h2v1h2v1h1v2h2v5h2v3h1v-10h2v-8h4v5h1v-3h2v-4h4v3h2v12h1v-5h3v1h1v2h2v7h1v-17h3v1h1v1h1v-1h3v8h1v-1h4v1h3v-4h1v-1h2v1h1v2h6v-1h2v1h1v1h2v1h1v-2h4v-8h1v-1h3v1h1v8h1v1h1v4h1v-1h2v-4h1v-1h1v1h2v2h2v9h1v-11h3v1h1v1h1v-1h2v1h1v7h1v-16h1v-1h1v-1h1v-1h2v1h1v8h2v1h2v-1h1v-16h4v11h1v-4h1v-1h2v1h1v7h2v-1h1v1h2v7h1v-1h1v-4h2v-1h1v1h1v1h2v1h1v6h2v5h1v-8h4v-15h4v14h1v-8h1v-1h2v1h2v-1h3v1h1v-2h4v5h1v-2h3v1h1v5h1v1h1v-9h1v-1h2v-3h4v-1h4v1h1v11h1v-1h4v-3h3v1h1v2h1v-1h1v-2h1v-1h2v-4h4v-3h4v1h1v9h2v-7h1v-1h2v1h1v15h1v-18h1v-1h2v1h1v7h2v-1h1v1h2v1h2v8h1v-1h2v-1h2v-6h1v-1h1v-3h1v-1h3v9h3v5h1v1h1v-7h1v-1h2v-4h3v1h1v8h2v4h3v-6h4v9h1v-5h2v-3h1v-1h2v1h1v-2h2v-1h1v1h2v-4h4v14h1v-15h4v6h1v-1h2v-3h3v1h1v2h1v-1h3v1h2v1h1v-7h4v11h1v-8h1v-1h1v-6h4v3h2v10h1v-12h1v1h1v-5h2v9h1v-1h3v1h1v13h2v-14h1v-1h6v5h2v2h1v-5h2v-9h1v1h1v-3h2v10h2v8h1v-3h1v-1h1v-8h2v-1h1v-1h1v8h1v1h1v1h1v-4h4v7h1v-2h2v-11h3v1h1v3h2v11h1v-8h2v-2h2v-1h2v-1h1v1h1v1h1v6h2v-8h1v-1h2v1h1v17h1v-2h4v-8h1v-1h2v-1h1v-1h2v1h1v-1h1v-1h2v1h1v1h1v5h1v1h1v-5h2v-1h1v1h1v12h1v-3h2v-7h1v-1h3v2h2v1h1v-7h4v2h2v1h1v2h2v-5h1v-1h2v-8h3v1h1v15h4v1h1v-5h4v3h3v-9h4v8h1v1h1v4h1v-7h2v-3h5v-1h3v1h2v-1h2v1h1v1h1v1h1v1h1v2h1v1h1v-4h1v-1h2v1h1v8h2v1h1v-14h2v-1h1v1h1v13h1v-17h4v12h2v-1h1v1h1v1h1v1h1v1h1v-6h1v-1h3v2h3v-1h1v-1h5v1h1v4h2v-7h1v-1h1v2h1v-7h2v-2h1v1h1v15h2v8h1v-20h4v3h1v-1h3v4h3v6h5v-4h4v-5h1v-1h3v7h1v-9h1v-1h2v1h1v-3h1v-1h3v1h1v9h4v1h2v1h1v-7h4v1h2v6h3v2h2v-6h1v-1h3v1h1v4h1v-1h3v5h2v1h1v-7h4v7h1v-4h2v-1h4v1h1v-1h3v1h1v-6h4v7h1v1h1v1h5v2h1v-7h3v1h1v5h1v-1h2v-1h2v-5h4v1h2v5h1v-1h3v1h1v-1h1v-1h6v-1h2v-12h1v-23h1v-1h3v33h2v5h1v1h1v1h1v-9h1v-1h2v1h1v5h2v4h2v5h1v-12h1v-1h2v1h1v4h1v-1h3v1h1v-5h1v-1h3v6h2v1h1v-7h4v13h1v-10h3v-1h2v1h1v11h1v-1h4v-3h1v-1h1v-3h1v-1h3v2h1v-5h4v6h1V3342.1z"/>
<rect x="921.2" y="3189.0" width="6.8" height="153.6" fill="#fff"/>
<rect x="921.2" y="3220.5" width="4.8" height="7.5" fill="#ffff00"/>
<rect x="921.2" y="3244.0" width="3.8" height="5.0" fill="#0000ff"/>
<text><tspan x="815.9" y="1942.9" textLength="341.8" lengthAdjust="spacingAndGlyphs" font-size="65">Fatumonas</tspan> <tspan x="1188.6" y="1940.8" textLength="53.0" lengthAdjust="spacingAndGlyphs" font-size="65" stroke="none">-</tspan> <tspan x="1274.2" y="1942.9" textLength="111.3" lengthAdjust="spacingAndGlyphs" font-size="65">Low</tspan> <tspan x="1421.5" y="1942.9" textLength="312.4" lengthAdjust="spacingAndGlyphs" font-size="65">Frequency</tspan></text>
<text><tspan x="583.4" y="2180.6" textLength="82.6" lengthAdjust="spacingAndGlyphs" font-size="54.5" stroke="#000" stroke-width="1">red</tspan> <tspan x="692.3" y="2180.6" textLength="46.4" lengthAdjust="spacingAndGlyphs" font-size="54.5" stroke="#000" stroke-width="1">=</tspan> <tspan x="766.9" y="2180.6" textLength="127.4" lengthAdjust="spacingAndGlyphs" font-size="54.5" stroke="#000" stroke-width="1">max,</tspan> <tspan x="976.4" y="2180.6" textLength="148.6" lengthAdjust="spacingAndGlyphs" font-size="54.5" stroke="#000" stroke-width="1">yellow</tspan> <tspan x="1157.5" y="2180.6" textLength="46.4" lengthAdjust="spacingAndGlyphs" font-size="54.5" stroke="#000" stroke-width="1">=</tspan> <tspan x="1230.0" y="2180.6" textLength="152.4" lengthAdjust="spacingAndGlyphs" font-size="54.5" stroke="#000" stroke-width="1">mean,</tspan> <tspan x="1415.9" y="2180.6" textLength="101.9" lengthAdjust="spacingAndGlyphs" font-size="54.5" stroke="#000" stroke-width="1">blue</tspan> <tspan x="1544.7" y="2180.6" textLength="45.6" lengthAdjust="spacingAndGlyphs" font-size="54.5" stroke="#000" stroke-width="1">=</tspan> <tspan x="1629.7" y="2180.6" textLength="56.2" lengthAdjust="spacingAndGlyphs" font-size="54.5" stroke="#000" stroke-width="1">10</tspan> <tspan x="1716.2" y="2180.6" textLength="251.7" lengthAdjust="spacingAndGlyphs" font-size="54.5" stroke="#000" stroke-width="1">percentile</tspan></text>
<text><tspan x="515.3" y="3583.5" textLength="79.4" lengthAdjust="spacingAndGlyphs" font-size="67">20</tspan></text>
<text><tspan x="876.7" y="3583.5" textLength="78.5" lengthAdjust="spacingAndGlyphs" font-size="67">30</tspan></text>
<text><tspan x="1238.2" y="3583.5" textLength="77.3" lengthAdjust="spacingAndGlyphs" font-size="67">40</tspan></text>
<text><tspan x="1597.4" y="3583.5" textLength="78.6" lengthAdjust="spacingAndGlyphs" font-size="67">50</tspan></text>
<text><tspan x="1957.2" y="3583.5" textLength="79.4" lengthAdjust="spacingAndGlyphs" font-size="67">60</tspan></text>
<text><tspan x="1011.0" y="3673.8" textLength="313.4" lengthAdjust="spacingAndGlyphs" font-size="65">Frequency</tspan> <tspan x="1359.0" y="3673.3" textLength="24.3" lengthAdjust="spacingAndGlyphs" font-size="72">(</tspan><tspan x="1387.1" y="3673.8" textLength="125.3" lengthAdjust="spacingAndGlyphs" font-size="65">MHz</tspan><tspan x="1515.2" y="3673.3" textLength="23.4" lengthAdjust="spacingAndGlyphs" font-size="72">)</tspan></text>
<text transform="rotate(-90 151.6 2193.5)"><tspan x="83.3" y="2191.0" textLength="55.5" lengthAdjust="spacingAndGlyphs" font-size="67" stroke="none">-</tspan><tspan x="140.2" y="2193.5" textLength="75.6" lengthAdjust="spacingAndGlyphs" font-size="67">40</tspan></text>
<text transform="rotate(-90 151.6 2521.0)"><tspan x="83.3" y="2518.5" textLength="55.5" lengthAdjust="spacingAndGlyphs" font-size="67" stroke="none">-</tspan><tspan x="138.2" y="2521.0" textLength="77.7" lengthAdjust="spacingAndGlyphs" font-size="67">60</tspan></text>
<text transform="rotate(-90 151.6 2848.5)"><tspan x="83.3" y="2846.0" textLength="55.5" lengthAdjust="spacingAndGlyphs" font-size="67" stroke="none">-</tspan><tspan x="138.8" y="2848.5" textLength="77.1" lengthAdjust="spacingAndGlyphs" font-size="67">80</tspan></text>
<text transform="rotate(-90 151.6 3176.0)"><tspan x="64.0" y="3173.5" textLength="55.5" lengthAdjust="spacingAndGlyphs" font-size="67" stroke="none">-</tspan><tspan x="119.7" y="3176.0" textLength="39.0" lengthAdjust="spacingAndGlyphs" font-size="67">1</tspan><tspan x="158.1" y="3176.0" textLength="78.9" lengthAdjust="spacingAndGlyphs" font-size="67">00</tspan></text>
<text transform="rotate(-90 151.6 3503.5)"><tspan x="64.0" y="3501.0" textLength="55.5" lengthAdjust="spacingAndGlyphs" font-size="67" stroke="none">-</tspan><tspan x="119.7" y="3503.5" textLength="39.0" lengthAdjust="spacingAndGlyphs" font-size="67">1</tspan><tspan x="157.3" y="3503.5" textLength="79.6" lengthAdjust="spacingAndGlyphs" font-size="67">20</tspan></text>
<text transform="rotate(-90 54.0 2766.7)"><tspan x="-434.3" y="2766.7" textLength="186.9" lengthAdjust="spacingAndGlyphs" font-size="65">Power</tspan> <tspan x="-223.5" y="2766.7" textLength="265.3" lengthAdjust="spacingAndGlyphs" font-size="65">Spectral</tspan> <tspan x="72.1" y="2766.7" textLength="245.1" lengthAdjust="spacingAndGlyphs" font-size="65">Intensity</tspan> <tspan x="355.0" y="2766.2" textLength="20.9" lengthAdjust="spacingAndGlyphs" font-size="72">(</tspan><tspan x="377.2" y="2766.7" textLength="140.9" lengthAdjust="spacingAndGlyphs" font-size="65">dBm</tspan><tspan x="521.8" y="2766.2" textLength="24.0" lengthAdjust="spacingAndGlyphs" font-size="72">)</tspan></text>
</g>
</svg></body></html>
